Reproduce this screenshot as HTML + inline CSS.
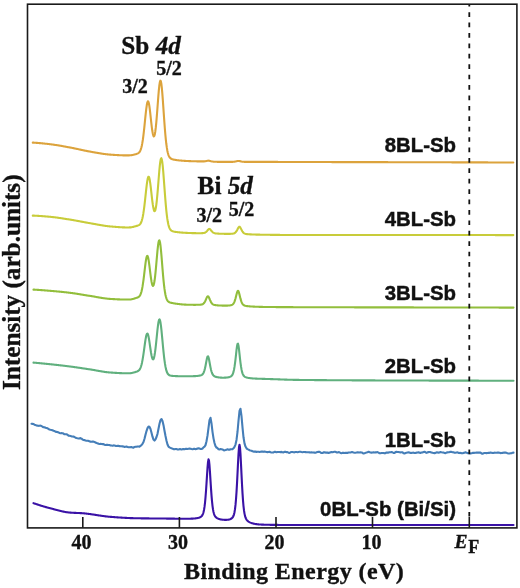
<!DOCTYPE html>
  <html><head><meta charset="utf-8"><style>
  html,body{margin:0;padding:0;background:#fff;}
  body{width:520px;height:588px;overflow:hidden;position:relative;}
  svg{position:absolute;left:0;top:0;filter:blur(0.4px);}
  .curves path{fill:none;stroke-width:2.1;stroke-linejoin:round;stroke-linecap:round;}
  .ser{font-family:"Liberation Serif",serif;font-weight:bold;fill:#111;stroke:#111;stroke-width:0.35;}
  .san{font-family:"Liberation Sans",sans-serif;font-weight:bold;fill:#111;stroke:#111;stroke-width:0.45;}
  </style></head><body>
  <svg width="520" height="588" viewBox="0 0 520 588">
  <g class="curves">
  <path d="M32.8 142.60L33.3 142.63L33.8 142.66L34.3 142.69L34.8 142.73L35.3 142.76L35.8 142.80L36.3 142.84L36.8 142.88L37.3 142.91L37.8 142.96L38.3 143.00L38.8 143.04L39.3 143.08L39.8 143.13L40.3 143.17L40.8 143.22L41.3 143.26L41.8 143.31L42.3 143.36L42.8 143.41L43.3 143.46L43.8 143.51L44.3 143.56L44.8 143.62L45.3 143.67L45.8 143.72L46.3 143.78L46.8 143.83L47.3 143.89L47.8 143.95L48.3 144.00L48.8 144.06L49.3 144.12L49.8 144.18L50.3 144.24L50.8 144.30L51.3 144.36L51.8 144.42L52.3 144.49L52.8 144.56L53.3 144.63L53.8 144.70L54.3 144.77L54.8 144.85L55.3 144.92L55.8 145.00L56.3 145.08L56.8 145.16L57.3 145.24L57.8 145.32L58.3 145.40L58.8 145.48L59.3 145.57L59.8 145.65L60.3 145.74L60.8 145.83L61.3 145.91L61.8 146.00L62.3 146.09L62.8 146.18L63.3 146.27L63.8 146.36L64.3 146.45L64.8 146.54L65.3 146.64L65.8 146.73L66.3 146.82L66.8 146.91L67.3 147.00L67.8 147.10L68.3 147.19L68.8 147.28L69.3 147.37L69.8 147.46L70.3 147.56L70.8 147.65L71.3 147.74L71.8 147.84L72.3 147.94L72.8 148.04L73.3 148.14L73.8 148.24L74.3 148.35L74.8 148.45L75.3 148.55L75.8 148.66L76.3 148.77L76.8 148.88L77.3 148.98L77.8 149.09L78.3 149.20L78.8 149.31L79.3 149.42L79.8 149.53L80.3 149.64L80.8 149.75L81.3 149.85L81.8 149.96L82.3 150.07L82.8 150.18L83.3 150.28L83.8 150.39L84.3 150.50L84.8 150.60L85.3 150.70L85.8 150.80L86.3 150.90L86.8 151.00L87.3 151.10L87.8 151.20L88.3 151.29L88.8 151.39L89.3 151.48L89.8 151.57L90.3 151.65L90.8 151.74L91.3 151.83L91.8 151.92L92.3 152.01L92.8 152.10L93.3 152.19L93.8 152.28L94.3 152.36L94.8 152.45L95.3 152.54L95.8 152.63L96.3 152.72L96.8 152.81L97.3 152.90L97.8 152.98L98.3 153.07L98.8 153.15L99.3 153.24L99.8 153.32L100.3 153.40L100.8 153.48L101.3 153.56L101.8 153.64L102.3 153.71L102.8 153.79L103.3 153.86L103.8 153.93L104.3 154.00L104.8 154.06L105.3 154.13L105.8 154.19L106.3 154.25L106.8 154.31L107.3 154.36L107.8 154.41L108.3 154.46L108.8 154.50L109.3 154.55L109.8 154.59L110.3 154.62L110.8 154.66L111.3 154.69L111.8 154.73L112.3 154.77L112.8 154.80L113.3 154.83L113.8 154.87L114.3 154.90L114.8 154.94L115.3 154.97L115.8 155.00L116.3 155.03L116.8 155.06L117.3 155.09L117.8 155.12L118.3 155.15L118.8 155.17L119.3 155.20L119.8 155.22L120.3 155.24L120.8 155.27L121.3 155.29L121.8 155.30L122.3 155.32L122.8 155.33L123.3 155.35L123.8 155.36L124.3 155.37L124.8 155.38L125.3 155.38L125.8 155.38L126.3 155.38L126.8 155.38L127.3 155.38L127.8 155.37L128.3 155.36L128.8 155.35L129.3 155.33L129.8 155.31L130.3 155.28L130.8 155.24L131.3 155.18L131.8 155.10L132.3 155.01L132.8 154.91L133.3 154.80L133.8 154.68L134.3 154.56L134.8 154.43L135.3 154.29L135.8 154.15L136.3 154.00L136.8 153.83L137.3 153.64L137.8 153.42L138.3 153.13L138.8 152.77L139.3 152.26L139.8 151.58L140.3 150.65L140.8 149.40L141.3 147.78L141.8 145.71L142.3 143.13L142.8 140.00L143.3 136.33L143.8 132.14L144.3 127.54L144.8 122.67L145.3 117.72L145.8 112.94L146.3 108.62L146.8 105.07L147.3 102.55L147.8 101.31L148.3 101.46L148.8 102.97L149.3 105.69L149.8 109.36L150.3 113.67L150.8 118.27L151.3 122.85L151.8 127.11L152.3 130.80L152.8 133.68L153.3 135.58L153.8 136.38L154.3 135.98L154.8 134.35L155.3 131.48L155.8 127.45L156.3 122.37L156.8 116.46L157.3 109.97L157.8 103.24L158.3 96.67L158.8 90.69L159.3 85.77L159.8 82.32L160.3 80.69L160.8 81.07L161.3 83.43L161.8 87.57L162.3 93.13L162.8 99.70L163.3 106.84L163.8 114.15L164.3 121.28L164.8 127.96L165.3 134.00L165.8 139.28L166.3 143.76L166.8 147.45L167.3 150.41L167.8 152.73L168.3 154.51L168.8 155.85L169.3 156.84L169.8 157.57L170.3 158.11L170.8 158.50L171.3 158.80L171.8 159.02L172.3 159.21L172.8 159.36L173.3 159.49L173.8 159.60L174.3 159.70L174.8 159.80L175.3 159.89L175.8 159.97L176.3 160.04L176.8 160.12L177.3 160.18L177.8 160.25L178.3 160.31L178.8 160.37L179.3 160.42L179.8 160.48L180.3 160.53L180.8 160.57L181.3 160.62L181.8 160.66L182.3 160.70L182.8 160.74L183.3 160.78L183.8 160.82L184.3 160.85L184.8 160.88L185.3 160.91L185.8 160.94L186.3 160.97L186.8 160.99L187.3 161.02L187.8 161.04L188.3 161.07L188.8 161.09L189.3 161.11L189.8 161.13L190.3 161.15L190.8 161.16L191.3 161.18L191.8 161.20L192.3 161.21L192.8 161.23L193.3 161.24L193.8 161.26L194.3 161.27L194.8 161.28L195.3 161.30L195.8 161.31L196.3 161.32L196.8 161.33L197.3 161.34L197.8 161.35L198.3 161.36L198.8 161.37L199.3 161.38L199.8 161.39L200.3 161.40L200.8 161.41L201.3 161.41L201.8 161.42L202.3 161.42L202.8 161.41L203.3 161.40L203.8 161.38L204.3 161.35L204.8 161.30L205.3 161.23L205.8 161.14L206.3 161.03L206.8 160.91L207.3 160.80L207.8 160.71L208.3 160.67L208.8 160.69L209.3 160.77L209.8 160.89L210.3 161.03L210.8 161.18L211.3 161.31L211.8 161.42L212.3 161.51L212.8 161.58L213.3 161.64L213.8 161.68L214.3 161.72L214.8 161.75L215.3 161.77L215.8 161.79L216.3 161.80L216.8 161.82L217.3 161.83L217.8 161.84L218.3 161.85L218.8 161.86L219.3 161.87L219.8 161.87L220.3 161.88L220.8 161.89L221.3 161.89L221.8 161.89L222.3 161.90L222.8 161.90L223.3 161.90L223.8 161.90L224.3 161.90L224.8 161.90L225.3 161.90L225.8 161.90L226.3 161.90L226.8 161.90L227.3 161.90L227.8 161.90L228.3 161.90L228.8 161.90L229.3 161.89L229.8 161.89L230.3 161.88L230.8 161.88L231.3 161.87L231.8 161.86L232.3 161.85L232.8 161.83L233.3 161.81L233.8 161.78L234.3 161.73L234.8 161.66L235.3 161.58L235.8 161.48L236.3 161.35L236.8 161.22L237.3 161.10L237.8 160.99L238.3 160.93L238.8 160.94L239.3 161.01L239.8 161.12L240.3 161.25L240.8 161.38L241.3 161.49L241.8 161.59L242.3 161.67L242.8 161.73L243.3 161.78L243.8 161.81L244.3 161.83L244.8 161.85L245.3 161.86L245.8 161.87L246.3 161.87L246.8 161.88L247.3 161.88L247.8 161.88L248.3 161.89L248.8 161.89L249.3 161.89L249.8 161.89L250.3 161.89L250.8 161.89L251.3 161.90L251.8 161.90L252.3 161.90L252.8 161.90L253.3 161.90L253.8 161.90L254.3 161.90L254.8 161.90L255.3 161.90L255.8 161.90L256.3 161.90L256.8 161.90L257.3 161.90L257.8 161.90L258.3 161.90L258.8 161.90L259.3 161.90L259.8 161.90L260.3 161.90L260.8 161.90L261.3 161.90L261.8 161.90L262.3 161.90L262.8 161.90L263.3 161.90L263.8 161.90L264.3 161.90L264.8 161.90L265.3 161.90L265.8 161.90L266.3 161.90L266.8 161.90L267.3 161.90L267.8 161.90L268.3 161.90L268.8 161.90L269.3 161.90L269.8 161.90L270.3 161.90L270.8 161.90L271.3 161.90L271.8 161.91L272.3 161.91L272.8 161.91L273.3 161.91L273.8 161.91L274.3 161.91L274.8 161.91L275.3 161.92L275.8 161.92L276.3 161.92L276.8 161.92L277.3 161.92L277.8 161.92L278.3 161.93L278.8 161.93L279.3 161.93L279.8 161.93L280.3 161.93L280.8 161.94L281.3 161.94L281.8 161.94L282.3 161.94L282.8 161.94L283.3 161.95L283.8 161.95L284.3 161.95L284.8 161.95L285.3 161.95L285.8 161.96L286.3 161.96L286.8 161.96L287.3 161.96L287.8 161.97L288.3 161.97L288.8 161.97L289.3 161.97L289.8 161.97L290.3 161.98L290.8 161.98L291.3 161.98L291.8 161.98L292.3 161.98L292.8 161.99L293.3 161.99L293.8 161.99L294.3 161.99L294.8 161.99L295.3 161.99L295.8 162.00L296.3 162.00L296.8 162.00L297.3 162.00L297.8 162.00L298.3 162.00L298.8 162.00L299.3 162.01L299.8 162.01L300.3 162.01L300.8 162.01L301.3 162.01L301.8 162.01L302.3 162.01L302.8 162.01L303.3 162.02L303.8 162.02L304.3 162.02L304.8 162.02L305.3 162.02L305.8 162.02L306.3 162.02L306.8 162.02L307.3 162.02L307.8 162.03L308.3 162.03L308.8 162.03L309.3 162.03L309.8 162.03L310.3 162.03L310.8 162.03L311.3 162.03L311.8 162.03L312.3 162.04L312.8 162.04L313.3 162.04L313.8 162.04L314.3 162.04L314.8 162.04L315.3 162.04L315.8 162.04L316.3 162.04L316.8 162.05L317.3 162.05L317.8 162.05L318.3 162.05L318.8 162.05L319.3 162.05L319.8 162.05L320.3 162.05L320.8 162.05L321.3 162.05L321.8 162.06L322.3 162.06L322.8 162.06L323.3 162.06L323.8 162.06L324.3 162.06L324.8 162.06L325.3 162.06L325.8 162.06L326.3 162.06L326.8 162.07L327.3 162.07L327.8 162.07L328.3 162.07L328.8 162.07L329.3 162.07L329.8 162.07L330.3 162.07L330.8 162.07L331.3 162.07L331.8 162.08L332.3 162.08L332.8 162.08L333.3 162.08L333.8 162.08L334.3 162.08L334.8 162.08L335.3 162.08L335.8 162.08L336.3 162.08L336.8 162.08L337.3 162.09L337.8 162.09L338.3 162.09L338.8 162.09L339.3 162.09L339.8 162.09L340.3 162.09L340.8 162.09L341.3 162.09L341.8 162.09L342.3 162.09L342.8 162.09L343.3 162.10L343.8 162.10L344.3 162.10L344.8 162.10L345.3 162.10L345.8 162.10L346.3 162.10L346.8 162.10L347.3 162.10L347.8 162.10L348.3 162.10L348.8 162.11L349.3 162.11L349.8 162.11L350.3 162.11L350.8 162.11L351.3 162.11L351.8 162.11L352.3 162.11L352.8 162.11L353.3 162.11L353.8 162.11L354.3 162.11L354.8 162.12L355.3 162.12L355.8 162.12L356.3 162.12L356.8 162.12L357.3 162.12L357.8 162.12L358.3 162.12L358.8 162.12L359.3 162.12L359.8 162.12L360.3 162.12L360.8 162.13L361.3 162.13L361.8 162.13L362.3 162.13L362.8 162.13L363.3 162.13L363.8 162.13L364.3 162.13L364.8 162.13L365.3 162.13L365.8 162.13L366.3 162.14L366.8 162.14L367.3 162.14L367.8 162.14L368.3 162.14L368.8 162.14L369.3 162.14L369.8 162.14L370.3 162.14L370.8 162.14L371.3 162.14L371.8 162.14L372.3 162.15L372.8 162.15L373.3 162.15L373.8 162.15L374.3 162.15L374.8 162.15L375.3 162.15L375.8 162.15L376.3 162.15L376.8 162.15L377.3 162.15L377.8 162.16L378.3 162.16L378.8 162.16L379.3 162.16L379.8 162.16L380.3 162.16L380.8 162.16L381.3 162.16L381.8 162.16L382.3 162.16L382.8 162.17L383.3 162.17L383.8 162.17L384.3 162.17L384.8 162.17L385.3 162.17L385.8 162.17L386.3 162.17L386.8 162.17L387.3 162.17L387.8 162.17L388.3 162.18L388.8 162.18L389.3 162.18L389.8 162.18L390.3 162.18L390.8 162.18L391.3 162.18L391.8 162.18L392.3 162.18L392.8 162.18L393.3 162.19L393.8 162.19L394.3 162.19L394.8 162.19L395.3 162.19L395.8 162.19L396.3 162.19L396.8 162.19L397.3 162.19L397.8 162.20L398.3 162.20L398.8 162.20L399.3 162.20L399.8 162.20L400.3 162.20L400.8 162.20L401.3 162.20L401.8 162.20L402.3 162.21L402.8 162.21L403.3 162.21L403.8 162.21L404.3 162.21L404.8 162.21L405.3 162.21L405.8 162.21L406.3 162.21L406.8 162.22L407.3 162.22L407.8 162.22L408.3 162.22L408.8 162.22L409.3 162.22L409.8 162.22L410.3 162.22L410.8 162.22L411.3 162.23L411.8 162.23L412.3 162.23L412.8 162.23L413.3 162.23L413.8 162.23L414.3 162.23L414.8 162.23L415.3 162.23L415.8 162.24L416.3 162.24L416.8 162.24L417.3 162.24L417.8 162.24L418.3 162.24L418.8 162.24L419.3 162.24L419.8 162.25L420.3 162.25L420.8 162.25L421.3 162.25L421.8 162.25L422.3 162.25L422.8 162.25L423.3 162.25L423.8 162.25L424.3 162.26L424.8 162.26L425.3 162.26L425.8 162.26L426.3 162.26L426.8 162.26L427.3 162.26L427.8 162.26L428.3 162.27L428.8 162.27L429.3 162.27L429.8 162.27L430.3 162.27L430.8 162.27L431.3 162.27L431.8 162.27L432.3 162.28L432.8 162.28L433.3 162.28L433.8 162.28L434.3 162.28L434.8 162.28L435.3 162.28L435.8 162.28L436.3 162.29L436.8 162.29L437.3 162.29L437.8 162.29L438.3 162.29L438.8 162.29L439.3 162.29L439.8 162.29L440.3 162.30L440.8 162.30L441.3 162.30L441.8 162.30L442.3 162.30L442.8 162.30L443.3 162.30L443.8 162.30L444.3 162.31L444.8 162.31L445.3 162.31L445.8 162.31L446.3 162.31L446.8 162.31L447.3 162.31L447.8 162.31L448.3 162.32L448.8 162.32L449.3 162.32L449.8 162.32L450.3 162.32L450.8 162.32L451.3 162.32L451.8 162.33L452.3 162.33L452.8 162.33L453.3 162.33L453.8 162.33L454.3 162.33L454.8 162.33L455.3 162.33L455.8 162.34L456.3 162.34L456.8 162.34L457.3 162.34L457.8 162.34L458.3 162.34L458.8 162.34L459.3 162.34L459.8 162.35L460.3 162.35L460.8 162.35L461.3 162.35L461.8 162.35L462.3 162.35L462.8 162.35L463.3 162.36L463.8 162.36L464.3 162.36L464.8 162.36L465.3 162.36L465.8 162.36L466.3 162.36L466.8 162.37L467.3 162.37L467.8 162.37L468.3 162.37L468.8 162.37L469.3 162.37L469.8 162.37L470.3 162.37L470.8 162.38L471.3 162.38L471.8 162.38L472.3 162.38L472.8 162.38L473.3 162.38L473.8 162.38L474.3 162.39L474.8 162.39L475.3 162.39L475.8 162.39L476.3 162.39L476.8 162.39L477.3 162.39L477.8 162.40L478.3 162.40L478.8 162.40L479.3 162.40L479.8 162.40L480.3 162.40L480.8 162.40L481.3 162.41L481.8 162.41L482.3 162.41L482.8 162.41L483.3 162.41L483.8 162.41L484.3 162.41L484.8 162.42L485.3 162.42L485.8 162.42L486.3 162.42L486.8 162.42L487.3 162.42L487.8 162.42L488.3 162.43L488.8 162.43L489.3 162.43L489.8 162.43L490.3 162.43L490.8 162.43L491.3 162.43L491.8 162.44L492.3 162.44L492.8 162.44L493.3 162.44L493.8 162.44L494.3 162.44L494.8 162.44L495.3 162.45L495.8 162.45L496.3 162.45L496.8 162.45L497.3 162.45L497.8 162.45L498.3 162.45L498.8 162.46L499.3 162.46L499.8 162.46L500.3 162.46L500.8 162.46L501.3 162.46L501.8 162.46L502.3 162.47L502.8 162.47L503.3 162.47L503.8 162.47L504.3 162.47L504.8 162.47L505.3 162.48L505.8 162.48L506.3 162.48L506.8 162.48L507.3 162.48L507.8 162.48L508.3 162.48L508.8 162.49L509.3 162.49L509.8 162.49L510.3 162.49L510.8 162.49L511.3 162.49L511.8 162.49L512.3 162.50L512.8 162.50L513.3 162.50" stroke="#DCA33C"/>
<path d="M32.8 215.60L33.3 215.62L33.8 215.64L34.3 215.66L34.8 215.68L35.3 215.71L35.8 215.73L36.3 215.76L36.8 215.79L37.3 215.81L37.8 215.84L38.3 215.87L38.8 215.91L39.3 215.94L39.8 215.97L40.3 216.00L40.8 216.04L41.3 216.07L41.8 216.11L42.3 216.15L42.8 216.19L43.3 216.22L43.8 216.26L44.3 216.30L44.8 216.34L45.3 216.39L45.8 216.43L46.3 216.47L46.8 216.51L47.3 216.56L47.8 216.60L48.3 216.65L48.8 216.69L49.3 216.74L49.8 216.78L50.3 216.83L50.8 216.88L51.3 216.93L51.8 216.98L52.3 217.03L52.8 217.09L53.3 217.14L53.8 217.20L54.3 217.26L54.8 217.32L55.3 217.39L55.8 217.45L56.3 217.52L56.8 217.58L57.3 217.65L57.8 217.72L58.3 217.79L58.8 217.86L59.3 217.93L59.8 218.01L60.3 218.08L60.8 218.16L61.3 218.23L61.8 218.31L62.3 218.38L62.8 218.46L63.3 218.54L63.8 218.62L64.3 218.70L64.8 218.77L65.3 218.85L65.8 218.93L66.3 219.01L66.8 219.09L67.3 219.17L67.8 219.25L68.3 219.33L68.8 219.41L69.3 219.49L69.8 219.57L70.3 219.65L70.8 219.73L71.3 219.81L71.8 219.89L72.3 219.98L72.8 220.06L73.3 220.15L73.8 220.23L74.3 220.32L74.8 220.41L75.3 220.50L75.8 220.59L76.3 220.68L76.8 220.77L77.3 220.86L77.8 220.96L78.3 221.05L78.8 221.14L79.3 221.24L79.8 221.33L80.3 221.43L80.8 221.52L81.3 221.61L81.8 221.71L82.3 221.80L82.8 221.90L83.3 221.99L83.8 222.08L84.3 222.18L84.8 222.27L85.3 222.36L85.8 222.45L86.3 222.55L86.8 222.64L87.3 222.73L87.8 222.82L88.3 222.91L88.8 222.99L89.3 223.08L89.8 223.17L90.3 223.25L90.8 223.34L91.3 223.42L91.8 223.51L92.3 223.60L92.8 223.69L93.3 223.78L93.8 223.87L94.3 223.97L94.8 224.06L95.3 224.15L95.8 224.24L96.3 224.33L96.8 224.43L97.3 224.52L97.8 224.61L98.3 224.70L98.8 224.79L99.3 224.88L99.8 224.97L100.3 225.06L100.8 225.14L101.3 225.23L101.8 225.31L102.3 225.40L102.8 225.48L103.3 225.56L103.8 225.63L104.3 225.71L104.8 225.78L105.3 225.85L105.8 225.92L106.3 225.99L106.8 226.05L107.3 226.12L107.8 226.18L108.3 226.23L108.8 226.29L109.3 226.34L109.8 226.38L110.3 226.43L110.8 226.47L111.3 226.51L111.8 226.56L112.3 226.60L112.8 226.65L113.3 226.69L113.8 226.73L114.3 226.78L114.8 226.82L115.3 226.86L115.8 226.90L116.3 226.94L116.8 226.98L117.3 227.02L117.8 227.05L118.3 227.09L118.8 227.13L119.3 227.16L119.8 227.19L120.3 227.22L120.8 227.25L121.3 227.28L121.8 227.31L122.3 227.33L122.8 227.35L123.3 227.37L123.8 227.39L124.3 227.41L124.8 227.42L125.3 227.43L125.8 227.44L126.3 227.45L126.8 227.45L127.3 227.45L127.8 227.45L128.3 227.45L128.8 227.44L129.3 227.42L129.8 227.41L130.3 227.38L130.8 227.34L131.3 227.27L131.8 227.19L132.3 227.09L132.8 226.98L133.3 226.86L133.8 226.73L134.3 226.59L134.8 226.46L135.3 226.31L135.8 226.17L136.3 226.03L136.8 225.88L137.3 225.73L137.8 225.57L138.3 225.38L138.8 225.16L139.3 224.85L139.8 224.43L140.3 223.86L140.8 223.07L141.3 222.00L141.8 220.59L142.3 218.78L142.8 216.49L143.3 213.70L143.8 210.38L144.3 206.56L144.8 202.32L145.3 197.78L145.8 193.11L146.3 188.55L146.8 184.37L147.3 180.84L147.8 178.25L148.3 176.83L148.8 176.72L149.3 177.92L149.8 180.33L150.3 183.69L150.8 187.72L151.3 192.11L151.8 196.55L152.3 200.76L152.8 204.50L153.3 207.55L153.8 209.76L154.3 210.98L154.8 211.13L155.3 210.15L155.8 208.04L156.3 204.82L156.8 200.56L157.3 195.42L157.8 189.59L158.3 183.34L158.8 177.01L159.3 171.00L159.8 165.71L160.3 161.58L160.8 158.99L161.3 158.20L161.8 159.32L162.3 162.25L162.8 166.73L163.3 172.39L163.8 178.82L164.3 185.62L164.8 192.43L165.3 198.94L165.8 204.94L166.3 210.28L166.8 214.87L167.3 218.70L167.8 221.82L168.3 224.29L168.8 226.20L169.3 227.64L169.8 228.72L170.3 229.52L170.8 230.11L171.3 230.53L171.8 230.85L172.3 231.09L172.8 231.27L173.3 231.42L173.8 231.55L174.3 231.66L174.8 231.76L175.3 231.85L175.8 231.93L176.3 232.00L176.8 232.07L177.3 232.14L177.8 232.20L178.3 232.26L178.8 232.31L179.3 232.36L179.8 232.41L180.3 232.46L180.8 232.50L181.3 232.55L181.8 232.59L182.3 232.62L182.8 232.66L183.3 232.70L183.8 232.73L184.3 232.76L184.8 232.79L185.3 232.82L185.8 232.84L186.3 232.87L186.8 232.90L187.3 232.92L187.8 232.94L188.3 232.96L188.8 232.98L189.3 233.00L189.8 233.02L190.3 233.04L190.8 233.05L191.3 233.07L191.8 233.08L192.3 233.10L192.8 233.11L193.3 233.12L193.8 233.13L194.3 233.14L194.8 233.15L195.3 233.16L195.8 233.17L196.3 233.18L196.8 233.19L197.3 233.19L197.8 233.20L198.3 233.20L198.8 233.20L199.3 233.20L199.8 233.20L200.3 233.20L200.8 233.20L201.3 233.19L201.8 233.17L202.3 233.15L202.8 233.11L203.3 233.06L203.8 232.98L204.3 232.86L204.8 232.69L205.3 232.44L205.8 232.12L206.3 231.70L206.8 231.19L207.3 230.61L207.8 230.00L208.3 229.45L208.8 229.04L209.3 228.90L209.8 229.07L210.3 229.50L210.8 230.08L211.3 230.71L211.8 231.31L212.3 231.84L212.8 232.29L213.3 232.64L213.8 232.90L214.3 233.10L214.8 233.25L215.3 233.35L215.8 233.43L216.3 233.49L216.8 233.53L217.3 233.57L217.8 233.60L218.3 233.63L218.8 233.66L219.3 233.68L219.8 233.70L220.3 233.72L220.8 233.74L221.3 233.75L221.8 233.77L222.3 233.78L222.8 233.80L223.3 233.81L223.8 233.82L224.3 233.83L224.8 233.83L225.3 233.84L225.8 233.85L226.3 233.85L226.8 233.86L227.3 233.86L227.8 233.86L228.3 233.86L228.8 233.85L229.3 233.85L229.8 233.84L230.3 233.83L230.8 233.81L231.3 233.79L231.8 233.76L232.3 233.71L232.8 233.65L233.3 233.56L233.8 233.43L234.3 233.25L234.8 232.98L235.3 232.60L235.8 232.09L236.3 231.43L236.8 230.63L237.3 229.70L237.8 228.71L238.3 227.77L238.8 227.04L239.3 226.71L239.8 226.87L240.3 227.49L240.8 228.39L241.3 229.40L241.8 230.38L242.3 231.26L242.8 232.01L243.3 232.60L243.8 233.05L244.3 233.38L244.8 233.62L245.3 233.80L245.8 233.92L246.3 234.02L246.8 234.09L247.3 234.15L247.8 234.20L248.3 234.24L248.8 234.28L249.3 234.31L249.8 234.34L250.3 234.37L250.8 234.40L251.3 234.42L251.8 234.44L252.3 234.46L252.8 234.48L253.3 234.50L253.8 234.52L254.3 234.53L254.8 234.55L255.3 234.56L255.8 234.58L256.3 234.59L256.8 234.61L257.3 234.62L257.8 234.63L258.3 234.64L258.8 234.65L259.3 234.66L259.8 234.67L260.3 234.68L260.8 234.69L261.3 234.70L261.8 234.71L262.3 234.72L262.8 234.73L263.3 234.74L263.8 234.75L264.3 234.75L264.8 234.76L265.3 234.77L265.8 234.78L266.3 234.78L266.8 234.79L267.3 234.80L267.8 234.80L268.3 234.81L268.8 234.81L269.3 234.82L269.8 234.82L270.3 234.83L270.8 234.84L271.3 234.84L271.8 234.85L272.3 234.85L272.8 234.86L273.3 234.86L273.8 234.87L274.3 234.87L274.8 234.88L275.3 234.88L275.8 234.89L276.3 234.89L276.8 234.90L277.3 234.90L277.8 234.91L278.3 234.91L278.8 234.92L279.3 234.92L279.8 234.92L280.3 234.93L280.8 234.93L281.3 234.94L281.8 234.94L282.3 234.95L282.8 234.95L283.3 234.95L283.8 234.96L284.3 234.96L284.8 234.96L285.3 234.97L285.8 234.97L286.3 234.97L286.8 234.98L287.3 234.98L287.8 234.98L288.3 234.98L288.8 234.99L289.3 234.99L289.8 234.99L290.3 234.99L290.8 234.99L291.3 234.99L291.8 235.00L292.3 235.00L292.8 235.00L293.3 235.00L293.8 235.00L294.3 235.00L294.8 235.00L295.3 235.00L295.8 235.00L296.3 235.00L296.8 235.00L297.3 235.00L297.8 235.00L298.3 235.00L298.8 235.00L299.3 235.00L299.8 235.00L300.3 235.00L300.8 235.00L301.3 235.00L301.8 235.00L302.3 235.00L302.8 235.00L303.3 235.00L303.8 235.00L304.3 235.00L304.8 235.00L305.3 235.00L305.8 235.00L306.3 235.00L306.8 235.00L307.3 235.00L307.8 235.00L308.3 235.00L308.8 235.00L309.3 235.00L309.8 235.01L310.3 235.01L310.8 235.01L311.3 235.01L311.8 235.01L312.3 235.01L312.8 235.01L313.3 235.01L313.8 235.01L314.3 235.01L314.8 235.01L315.3 235.01L315.8 235.01L316.3 235.01L316.8 235.01L317.3 235.01L317.8 235.01L318.3 235.01L318.8 235.01L319.3 235.01L319.8 235.01L320.3 235.01L320.8 235.01L321.3 235.01L321.8 235.01L322.3 235.01L322.8 235.01L323.3 235.01L323.8 235.01L324.3 235.01L324.8 235.01L325.3 235.01L325.8 235.01L326.3 235.01L326.8 235.01L327.3 235.01L327.8 235.01L328.3 235.01L328.8 235.01L329.3 235.01L329.8 235.01L330.3 235.01L330.8 235.01L331.3 235.01L331.8 235.01L332.3 235.01L332.8 235.01L333.3 235.01L333.8 235.01L334.3 235.01L334.8 235.01L335.3 235.01L335.8 235.01L336.3 235.01L336.8 235.01L337.3 235.01L337.8 235.01L338.3 235.01L338.8 235.01L339.3 235.01L339.8 235.01L340.3 235.01L340.8 235.01L341.3 235.01L341.8 235.01L342.3 235.01L342.8 235.01L343.3 235.01L343.8 235.00L344.3 235.00L344.8 235.00L345.3 235.00L345.8 235.00L346.3 235.00L346.8 235.00L347.3 235.00L347.8 235.00L348.3 235.00L348.8 235.00L349.3 235.00L349.8 235.00L350.3 235.00L350.8 235.00L351.3 235.00L351.8 235.00L352.3 235.00L352.8 235.00L353.3 235.00L353.8 235.00L354.3 235.00L354.8 235.00L355.3 235.00L355.8 235.00L356.3 235.00L356.8 235.00L357.3 235.00L357.8 235.00L358.3 235.00L358.8 235.00L359.3 235.00L359.8 235.00L360.3 235.00L360.8 235.00L361.3 235.00L361.8 235.00L362.3 235.00L362.8 235.00L363.3 235.00L363.8 235.00L364.3 235.00L364.8 235.00L365.3 235.00L365.8 235.00L366.3 235.00L366.8 235.00L367.3 235.00L367.8 235.00L368.3 235.00L368.8 235.00L369.3 235.00L369.8 235.00L370.3 235.00L370.8 235.00L371.3 235.00L371.8 235.00L372.3 235.00L372.8 235.00L373.3 235.00L373.8 235.00L374.3 235.00L374.8 235.00L375.3 235.00L375.8 235.00L376.3 235.00L376.8 235.00L377.3 235.00L377.8 235.00L378.3 235.00L378.8 235.00L379.3 235.00L379.8 235.00L380.3 235.00L380.8 235.00L381.3 235.00L381.8 235.00L382.3 235.00L382.8 235.00L383.3 235.00L383.8 235.00L384.3 235.00L384.8 235.00L385.3 235.00L385.8 235.00L386.3 235.00L386.8 235.00L387.3 235.00L387.8 235.00L388.3 235.00L388.8 235.00L389.3 235.00L389.8 235.00L390.3 235.00L390.8 235.00L391.3 235.00L391.8 235.00L392.3 235.00L392.8 235.00L393.3 235.00L393.8 235.00L394.3 235.00L394.8 235.00L395.3 235.00L395.8 235.00L396.3 235.00L396.8 235.00L397.3 235.00L397.8 235.00L398.3 235.00L398.8 235.00L399.3 235.00L399.8 235.00L400.3 235.00L400.8 235.00L401.3 235.00L401.8 235.00L402.3 235.00L402.8 235.00L403.3 235.00L403.8 235.00L404.3 235.00L404.8 235.00L405.3 235.00L405.8 235.00L406.3 235.00L406.8 235.00L407.3 235.00L407.8 235.00L408.3 235.00L408.8 235.00L409.3 235.00L409.8 235.00L410.3 235.00L410.8 235.00L411.3 235.00L411.8 235.00L412.3 235.00L412.8 235.00L413.3 235.00L413.8 235.00L414.3 235.00L414.8 235.00L415.3 235.00L415.8 235.00L416.3 235.00L416.8 235.00L417.3 235.00L417.8 235.00L418.3 235.00L418.8 235.00L419.3 235.00L419.8 235.00L420.3 235.00L420.8 235.01L421.3 235.01L421.8 235.01L422.3 235.01L422.8 235.01L423.3 235.01L423.8 235.01L424.3 235.01L424.8 235.01L425.3 235.01L425.8 235.01L426.3 235.01L426.8 235.01L427.3 235.01L427.8 235.01L428.3 235.01L428.8 235.01L429.3 235.01L429.8 235.01L430.3 235.01L430.8 235.01L431.3 235.01L431.8 235.01L432.3 235.01L432.8 235.01L433.3 235.01L433.8 235.01L434.3 235.01L434.8 235.01L435.3 235.01L435.8 235.01L436.3 235.01L436.8 235.01L437.3 235.01L437.8 235.01L438.3 235.02L438.8 235.02L439.3 235.02L439.8 235.02L440.3 235.02L440.8 235.02L441.3 235.02L441.8 235.02L442.3 235.02L442.8 235.02L443.3 235.02L443.8 235.02L444.3 235.02L444.8 235.02L445.3 235.02L445.8 235.02L446.3 235.02L446.8 235.02L447.3 235.02L447.8 235.02L448.3 235.02L448.8 235.02L449.3 235.02L449.8 235.02L450.3 235.02L450.8 235.03L451.3 235.03L451.8 235.03L452.3 235.03L452.8 235.03L453.3 235.03L453.8 235.03L454.3 235.03L454.8 235.03L455.3 235.03L455.8 235.03L456.3 235.03L456.8 235.03L457.3 235.03L457.8 235.03L458.3 235.03L458.8 235.03L459.3 235.03L459.8 235.03L460.3 235.03L460.8 235.03L461.3 235.04L461.8 235.04L462.3 235.04L462.8 235.04L463.3 235.04L463.8 235.04L464.3 235.04L464.8 235.04L465.3 235.04L465.8 235.04L466.3 235.04L466.8 235.04L467.3 235.04L467.8 235.04L468.3 235.04L468.8 235.04L469.3 235.04L469.8 235.04L470.3 235.04L470.8 235.05L471.3 235.05L471.8 235.05L472.3 235.05L472.8 235.05L473.3 235.05L473.8 235.05L474.3 235.05L474.8 235.05L475.3 235.05L475.8 235.05L476.3 235.05L476.8 235.05L477.3 235.05L477.8 235.05L478.3 235.05L478.8 235.05L479.3 235.06L479.8 235.06L480.3 235.06L480.8 235.06L481.3 235.06L481.8 235.06L482.3 235.06L482.8 235.06L483.3 235.06L483.8 235.06L484.3 235.06L484.8 235.06L485.3 235.06L485.8 235.06L486.3 235.06L486.8 235.06L487.3 235.07L487.8 235.07L488.3 235.07L488.8 235.07L489.3 235.07L489.8 235.07L490.3 235.07L490.8 235.07L491.3 235.07L491.8 235.07L492.3 235.07L492.8 235.07L493.3 235.07L493.8 235.07L494.3 235.07L494.8 235.07L495.3 235.08L495.8 235.08L496.3 235.08L496.8 235.08L497.3 235.08L497.8 235.08L498.3 235.08L498.8 235.08L499.3 235.08L499.8 235.08L500.3 235.08L500.8 235.08L501.3 235.08L501.8 235.08L502.3 235.08L502.8 235.09L503.3 235.09L503.8 235.09L504.3 235.09L504.8 235.09L505.3 235.09L505.8 235.09L506.3 235.09L506.8 235.09L507.3 235.09L507.8 235.09L508.3 235.09L508.8 235.09L509.3 235.09L509.8 235.09L510.3 235.10L510.8 235.10L511.3 235.10L511.8 235.10L512.3 235.10L512.8 235.10L513.3 235.10" stroke="#C8CC3A"/>
<path d="M33.5 289.60L34.0 289.63L34.5 289.66L35.0 289.69L35.5 289.72L36.0 289.76L36.5 289.79L37.0 289.82L37.5 289.85L38.0 289.89L38.5 289.92L39.0 289.96L39.5 289.99L40.0 290.03L40.5 290.06L41.0 290.10L41.5 290.13L42.0 290.17L42.5 290.21L43.0 290.24L43.5 290.28L44.0 290.32L44.5 290.36L45.0 290.40L45.5 290.44L46.0 290.47L46.5 290.51L47.0 290.55L47.5 290.59L48.0 290.63L48.5 290.68L49.0 290.72L49.5 290.76L50.0 290.80L50.5 290.84L51.0 290.88L51.5 290.93L52.0 290.97L52.5 291.01L53.0 291.06L53.5 291.10L54.0 291.14L54.5 291.19L55.0 291.23L55.5 291.28L56.0 291.33L56.5 291.37L57.0 291.42L57.5 291.46L58.0 291.51L58.5 291.56L59.0 291.61L59.5 291.66L60.0 291.71L60.5 291.76L61.0 291.81L61.5 291.86L62.0 291.91L62.5 291.96L63.0 292.01L63.5 292.06L64.0 292.12L64.5 292.17L65.0 292.22L65.5 292.28L66.0 292.33L66.5 292.39L67.0 292.45L67.5 292.50L68.0 292.56L68.5 292.62L69.0 292.68L69.5 292.74L70.0 292.80L70.5 292.86L71.0 292.92L71.5 292.99L72.0 293.06L72.5 293.12L73.0 293.19L73.5 293.26L74.0 293.34L74.5 293.41L75.0 293.48L75.5 293.56L76.0 293.63L76.5 293.71L77.0 293.79L77.5 293.87L78.0 293.95L78.5 294.03L79.0 294.11L79.5 294.19L80.0 294.27L80.5 294.35L81.0 294.44L81.5 294.52L82.0 294.60L82.5 294.69L83.0 294.77L83.5 294.85L84.0 294.93L84.5 295.02L85.0 295.10L85.5 295.18L86.0 295.26L86.5 295.35L87.0 295.43L87.5 295.51L88.0 295.59L88.5 295.67L89.0 295.75L89.5 295.82L90.0 295.90L90.5 295.98L91.0 296.06L91.5 296.14L92.0 296.22L92.5 296.30L93.0 296.39L93.5 296.48L94.0 296.56L94.5 296.65L95.0 296.74L95.5 296.83L96.0 296.92L96.5 297.01L97.0 297.10L97.5 297.19L98.0 297.27L98.5 297.36L99.0 297.45L99.5 297.54L100.0 297.62L100.5 297.71L101.0 297.79L101.5 297.87L102.0 297.96L102.5 298.03L103.0 298.11L103.5 298.19L104.0 298.26L104.5 298.33L105.0 298.40L105.5 298.46L106.0 298.52L106.5 298.58L107.0 298.64L107.5 298.69L108.0 298.74L108.5 298.79L109.0 298.83L109.5 298.87L110.0 298.90L110.5 298.93L111.0 298.96L111.5 298.99L112.0 299.02L112.5 299.05L113.0 299.08L113.5 299.11L114.0 299.14L114.5 299.17L115.0 299.20L115.5 299.23L116.0 299.25L116.5 299.28L117.0 299.30L117.5 299.33L118.0 299.35L118.5 299.37L119.0 299.39L119.5 299.41L120.0 299.43L120.5 299.45L121.0 299.47L121.5 299.49L122.0 299.50L122.5 299.51L123.0 299.52L123.5 299.54L124.0 299.54L124.5 299.55L125.0 299.56L125.5 299.56L126.0 299.56L126.5 299.56L127.0 299.56L127.5 299.56L128.0 299.55L128.5 299.54L129.0 299.53L129.5 299.52L130.0 299.50L130.5 299.47L131.0 299.41L131.5 299.33L132.0 299.22L132.5 299.10L133.0 298.97L133.5 298.82L134.0 298.67L134.5 298.51L135.0 298.35L135.5 298.18L136.0 298.02L136.5 297.85L137.0 297.67L137.5 297.48L138.0 297.27L138.5 297.00L139.0 296.64L139.5 296.14L140.0 295.45L140.5 294.48L141.0 293.19L141.5 291.49L142.0 289.32L142.5 286.64L143.0 283.46L143.5 279.80L144.0 275.78L144.5 271.54L145.0 267.31L145.5 263.34L146.0 259.95L146.5 257.43L147.0 256.03L147.5 255.91L148.0 257.09L148.5 259.42L149.0 262.65L149.5 266.47L150.0 270.55L150.5 274.59L151.0 278.30L151.5 281.45L152.0 283.86L152.5 285.38L153.0 285.90L153.5 285.36L154.0 283.74L154.5 281.03L155.0 277.31L155.5 272.70L156.0 267.41L156.5 261.69L157.0 255.90L157.5 250.45L158.0 245.77L158.5 242.31L159.0 240.45L159.5 240.41L160.0 242.22L160.5 245.70L161.0 250.50L161.5 256.19L162.0 262.35L162.5 268.58L163.0 274.55L163.5 280.03L164.0 284.86L164.5 288.95L165.0 292.31L165.5 294.98L166.0 297.05L166.5 298.61L167.0 299.76L167.5 300.61L168.0 301.22L168.5 301.67L169.0 302.00L169.5 302.26L170.0 302.45L170.5 302.62L171.0 302.75L171.5 302.87L172.0 302.98L172.5 303.08L173.0 303.18L173.5 303.27L174.0 303.36L174.5 303.44L175.0 303.53L175.5 303.60L176.0 303.68L176.5 303.75L177.0 303.82L177.5 303.89L178.0 303.95L178.5 304.01L179.0 304.07L179.5 304.13L180.0 304.19L180.5 304.24L181.0 304.29L181.5 304.34L182.0 304.38L182.5 304.43L183.0 304.47L183.5 304.51L184.0 304.54L184.5 304.58L185.0 304.61L185.5 304.64L186.0 304.66L186.5 304.68L187.0 304.70L187.5 304.72L188.0 304.74L188.5 304.75L189.0 304.76L189.5 304.78L190.0 304.79L190.5 304.79L191.0 304.80L191.5 304.81L192.0 304.82L192.5 304.82L193.0 304.82L193.5 304.83L194.0 304.83L194.5 304.83L195.0 304.83L195.5 304.83L196.0 304.82L196.5 304.82L197.0 304.81L197.5 304.80L198.0 304.79L198.5 304.78L199.0 304.76L199.5 304.74L200.0 304.70L200.5 304.66L201.0 304.60L201.5 304.51L202.0 304.39L202.5 304.21L203.0 303.95L203.5 303.58L204.0 303.06L204.5 302.38L205.0 301.52L205.5 300.49L206.0 299.33L206.5 298.15L207.0 297.09L207.5 296.38L208.0 296.22L208.5 296.65L209.0 297.55L209.5 298.72L210.0 299.94L210.5 301.08L211.0 302.08L211.5 302.90L212.0 303.54L212.5 304.03L213.0 304.38L213.5 304.64L214.0 304.82L214.5 304.96L215.0 305.06L215.5 305.14L216.0 305.21L216.5 305.26L217.0 305.31L217.5 305.35L218.0 305.39L218.5 305.43L219.0 305.46L219.5 305.48L220.0 305.51L220.5 305.53L221.0 305.55L221.5 305.56L222.0 305.58L222.5 305.59L223.0 305.60L223.5 305.61L224.0 305.61L224.5 305.62L225.0 305.62L225.5 305.62L226.0 305.61L226.5 305.60L227.0 305.59L227.5 305.58L228.0 305.55L228.5 305.53L229.0 305.49L229.5 305.45L230.0 305.39L230.5 305.31L231.0 305.21L231.5 305.07L232.0 304.86L232.5 304.57L233.0 304.15L233.5 303.55L234.0 302.72L234.5 301.62L235.0 300.20L235.5 298.50L236.0 296.56L236.5 294.53L237.0 292.66L237.5 291.30L238.0 290.80L238.5 291.33L239.0 292.72L239.5 294.63L240.0 296.69L240.5 298.66L241.0 300.40L241.5 301.85L242.0 302.99L242.5 303.85L243.0 304.48L243.5 304.94L244.0 305.26L244.5 305.50L245.0 305.67L245.5 305.81L246.0 305.92L246.5 306.01L247.0 306.09L247.5 306.15L248.0 306.21L248.5 306.27L249.0 306.32L249.5 306.36L250.0 306.40L250.5 306.44L251.0 306.48L251.5 306.51L252.0 306.54L252.5 306.57L253.0 306.59L253.5 306.62L254.0 306.64L254.5 306.67L255.0 306.69L255.5 306.71L256.0 306.73L256.5 306.75L257.0 306.76L257.5 306.78L258.0 306.80L258.5 306.81L259.0 306.83L259.5 306.84L260.0 306.85L260.5 306.87L261.0 306.88L261.5 306.89L262.0 306.90L262.5 306.91L263.0 306.93L263.5 306.94L264.0 306.94L264.5 306.95L265.0 306.96L265.5 306.97L266.0 306.98L266.5 306.98L267.0 306.99L267.5 307.00L268.0 307.00L268.5 307.01L269.0 307.01L269.5 307.02L270.0 307.03L270.5 307.03L271.0 307.04L271.5 307.04L272.0 307.04L272.5 307.05L273.0 307.05L273.5 307.06L274.0 307.06L274.5 307.07L275.0 307.07L275.5 307.07L276.0 307.08L276.5 307.08L277.0 307.09L277.5 307.09L278.0 307.09L278.5 307.10L279.0 307.10L279.5 307.10L280.0 307.11L280.5 307.11L281.0 307.11L281.5 307.12L282.0 307.12L282.5 307.12L283.0 307.13L283.5 307.13L284.0 307.13L284.5 307.13L285.0 307.14L285.5 307.14L286.0 307.14L286.5 307.14L287.0 307.15L287.5 307.15L288.0 307.15L288.5 307.15L289.0 307.16L289.5 307.16L290.0 307.16L290.5 307.16L291.0 307.17L291.5 307.17L292.0 307.17L292.5 307.17L293.0 307.17L293.5 307.18L294.0 307.18L294.5 307.18L295.0 307.18L295.5 307.18L296.0 307.19L296.5 307.19L297.0 307.19L297.5 307.19L298.0 307.19L298.5 307.19L299.0 307.20L299.5 307.20L300.0 307.20L300.5 307.20L301.0 307.20L301.5 307.21L302.0 307.21L302.5 307.21L303.0 307.21L303.5 307.21L304.0 307.21L304.5 307.21L305.0 307.22L305.5 307.22L306.0 307.22L306.5 307.22L307.0 307.22L307.5 307.22L308.0 307.23L308.5 307.23L309.0 307.23L309.5 307.23L310.0 307.23L310.5 307.23L311.0 307.23L311.5 307.24L312.0 307.24L312.5 307.24L313.0 307.24L313.5 307.24L314.0 307.24L314.5 307.24L315.0 307.24L315.5 307.25L316.0 307.25L316.5 307.25L317.0 307.25L317.5 307.25L318.0 307.25L318.5 307.25L319.0 307.26L319.5 307.26L320.0 307.26L320.5 307.26L321.0 307.26L321.5 307.26L322.0 307.26L322.5 307.26L323.0 307.26L323.5 307.27L324.0 307.27L324.5 307.27L325.0 307.27L325.5 307.27L326.0 307.27L326.5 307.27L327.0 307.27L327.5 307.27L328.0 307.28L328.5 307.28L329.0 307.28L329.5 307.28L330.0 307.28L330.5 307.28L331.0 307.28L331.5 307.28L332.0 307.28L332.5 307.29L333.0 307.29L333.5 307.29L334.0 307.29L334.5 307.29L335.0 307.29L335.5 307.29L336.0 307.29L336.5 307.29L337.0 307.29L337.5 307.30L338.0 307.30L338.5 307.30L339.0 307.30L339.5 307.30L340.0 307.30L340.5 307.30L341.0 307.30L341.5 307.30L342.0 307.30L342.5 307.30L343.0 307.31L343.5 307.31L344.0 307.31L344.5 307.31L345.0 307.31L345.5 307.31L346.0 307.31L346.5 307.31L347.0 307.31L347.5 307.31L348.0 307.31L348.5 307.32L349.0 307.32L349.5 307.32L350.0 307.32L350.5 307.32L351.0 307.32L351.5 307.32L352.0 307.32L352.5 307.32L353.0 307.32L353.5 307.32L354.0 307.32L354.5 307.33L355.0 307.33L355.5 307.33L356.0 307.33L356.5 307.33L357.0 307.33L357.5 307.33L358.0 307.33L358.5 307.33L359.0 307.33L359.5 307.33L360.0 307.33L360.5 307.34L361.0 307.34L361.5 307.34L362.0 307.34L362.5 307.34L363.0 307.34L363.5 307.34L364.0 307.34L364.5 307.34L365.0 307.34L365.5 307.34L366.0 307.34L366.5 307.34L367.0 307.35L367.5 307.35L368.0 307.35L368.5 307.35L369.0 307.35L369.5 307.35L370.0 307.35L370.5 307.35L371.0 307.35L371.5 307.35L372.0 307.35L372.5 307.35L373.0 307.36L373.5 307.36L374.0 307.36L374.5 307.36L375.0 307.36L375.5 307.36L376.0 307.36L376.5 307.36L377.0 307.36L377.5 307.36L378.0 307.36L378.5 307.36L379.0 307.36L379.5 307.37L380.0 307.37L380.5 307.37L381.0 307.37L381.5 307.37L382.0 307.37L382.5 307.37L383.0 307.37L383.5 307.37L384.0 307.37L384.5 307.37L385.0 307.37L385.5 307.38L386.0 307.38L386.5 307.38L387.0 307.38L387.5 307.38L388.0 307.38L388.5 307.38L389.0 307.38L389.5 307.38L390.0 307.38L390.5 307.38L391.0 307.38L391.5 307.39L392.0 307.39L392.5 307.39L393.0 307.39L393.5 307.39L394.0 307.39L394.5 307.39L395.0 307.39L395.5 307.39L396.0 307.39L396.5 307.39L397.0 307.39L397.5 307.40L398.0 307.40L398.5 307.40L399.0 307.40L399.5 307.40L400.0 307.40L400.5 307.40L401.0 307.40L401.5 307.40L402.0 307.40L402.5 307.40L403.0 307.41L403.5 307.41L404.0 307.41L404.5 307.41L405.0 307.41L405.5 307.41L406.0 307.41L406.5 307.41L407.0 307.41L407.5 307.41L408.0 307.41L408.5 307.42L409.0 307.42L409.5 307.42L410.0 307.42L410.5 307.42L411.0 307.42L411.5 307.42L412.0 307.42L412.5 307.42L413.0 307.42L413.5 307.42L414.0 307.43L414.5 307.43L415.0 307.43L415.5 307.43L416.0 307.43L416.5 307.43L417.0 307.43L417.5 307.43L418.0 307.43L418.5 307.43L419.0 307.43L419.5 307.44L420.0 307.44L420.5 307.44L421.0 307.44L421.5 307.44L422.0 307.44L422.5 307.44L423.0 307.44L423.5 307.44L424.0 307.44L424.5 307.44L425.0 307.45L425.5 307.45L426.0 307.45L426.5 307.45L427.0 307.45L427.5 307.45L428.0 307.45L428.5 307.45L429.0 307.45L429.5 307.45L430.0 307.45L430.5 307.46L431.0 307.46L431.5 307.46L432.0 307.46L432.5 307.46L433.0 307.46L433.5 307.46L434.0 307.46L434.5 307.46L435.0 307.46L435.5 307.46L436.0 307.46L436.5 307.47L437.0 307.47L437.5 307.47L438.0 307.47L438.5 307.47L439.0 307.47L439.5 307.47L440.0 307.47L440.5 307.47L441.0 307.47L441.5 307.47L442.0 307.48L442.5 307.48L443.0 307.48L443.5 307.48L444.0 307.48L444.5 307.48L445.0 307.48L445.5 307.48L446.0 307.48L446.5 307.48L447.0 307.48L447.5 307.49L448.0 307.49L448.5 307.49L449.0 307.49L449.5 307.49L450.0 307.49L450.5 307.49L451.0 307.49L451.5 307.49L452.0 307.49L452.5 307.49L453.0 307.50L453.5 307.50L454.0 307.50L454.5 307.50L455.0 307.50L455.5 307.50L456.0 307.50L456.5 307.50L457.0 307.50L457.5 307.50L458.0 307.50L458.5 307.50L459.0 307.51L459.5 307.51L460.0 307.51L460.5 307.51L461.0 307.51L461.5 307.51L462.0 307.51L462.5 307.51L463.0 307.51L463.5 307.51L464.0 307.51L464.5 307.52L465.0 307.52L465.5 307.52L466.0 307.52L466.5 307.52L467.0 307.52L467.5 307.52L468.0 307.52L468.5 307.52L469.0 307.52L469.5 307.52L470.0 307.52L470.5 307.53L471.0 307.53L471.5 307.53L472.0 307.53L472.5 307.53L473.0 307.53L473.5 307.53L474.0 307.53L474.5 307.53L475.0 307.53L475.5 307.53L476.0 307.54L476.5 307.54L477.0 307.54L477.5 307.54L478.0 307.54L478.5 307.54L479.0 307.54L479.5 307.54L480.0 307.54L480.5 307.54L481.0 307.54L481.5 307.54L482.0 307.55L482.5 307.55L483.0 307.55L483.5 307.55L484.0 307.55L484.5 307.55L485.0 307.55L485.5 307.55L486.0 307.55L486.5 307.55L487.0 307.55L487.5 307.56L488.0 307.56L488.5 307.56L489.0 307.56L489.5 307.56L490.0 307.56L490.5 307.56L491.0 307.56L491.5 307.56L492.0 307.56L492.5 307.56L493.0 307.56L493.5 307.57L494.0 307.57L494.5 307.57L495.0 307.57L495.5 307.57L496.0 307.57L496.5 307.57L497.0 307.57L497.5 307.57L498.0 307.57L498.5 307.57L499.0 307.58L499.5 307.58L500.0 307.58L500.5 307.58L501.0 307.58L501.5 307.58L502.0 307.58L502.5 307.58L503.0 307.58L503.5 307.58L504.0 307.58L504.5 307.58L505.0 307.59L505.5 307.59L506.0 307.59L506.5 307.59L507.0 307.59L507.5 307.59L508.0 307.59L508.5 307.59L509.0 307.59L509.5 307.59L510.0 307.59L510.5 307.59L511.0 307.60L511.5 307.60L512.0 307.60L512.5 307.60L513.0 307.60L513.5 307.60" stroke="#92BE3C"/>
<path d="M33.5 362.60L34.0 362.64L34.5 362.69L35.0 362.73L35.5 362.78L36.0 362.83L36.5 362.87L37.0 362.92L37.5 362.96L38.0 363.01L38.5 363.06L39.0 363.10L39.5 363.15L40.0 363.20L40.5 363.25L41.0 363.29L41.5 363.34L42.0 363.39L42.5 363.44L43.0 363.49L43.5 363.54L44.0 363.59L44.5 363.64L45.0 363.69L45.5 363.74L46.0 363.79L46.5 363.84L47.0 363.89L47.5 363.94L48.0 363.99L48.5 364.04L49.0 364.10L49.5 364.15L50.0 364.20L50.5 364.25L51.0 364.31L51.5 364.36L52.0 364.41L52.5 364.46L53.0 364.52L53.5 364.57L54.0 364.63L54.5 364.68L55.0 364.73L55.5 364.79L56.0 364.84L56.5 364.90L57.0 364.95L57.5 365.01L58.0 365.07L58.5 365.12L59.0 365.18L59.5 365.23L60.0 365.29L60.5 365.35L61.0 365.41L61.5 365.46L62.0 365.52L62.5 365.58L63.0 365.64L63.5 365.70L64.0 365.76L64.5 365.82L65.0 365.88L65.5 365.94L66.0 366.00L66.5 366.06L67.0 366.12L67.5 366.18L68.0 366.25L68.5 366.31L69.0 366.37L69.5 366.44L70.0 366.50L70.5 366.56L71.0 366.63L71.5 366.70L72.0 366.76L72.5 366.83L73.0 366.90L73.5 366.97L74.0 367.03L74.5 367.10L75.0 367.17L75.5 367.24L76.0 367.31L76.5 367.39L77.0 367.46L77.5 367.53L78.0 367.60L78.5 367.67L79.0 367.75L79.5 367.82L80.0 367.90L80.5 367.97L81.0 368.04L81.5 368.12L82.0 368.19L82.5 368.27L83.0 368.34L83.5 368.42L84.0 368.49L84.5 368.57L85.0 368.64L85.5 368.72L86.0 368.80L86.5 368.87L87.0 368.95L87.5 369.02L88.0 369.10L88.5 369.17L89.0 369.25L89.5 369.32L90.0 369.40L90.5 369.48L91.0 369.55L91.5 369.64L92.0 369.72L92.5 369.80L93.0 369.89L93.5 369.97L94.0 370.06L94.5 370.15L95.0 370.24L95.5 370.33L96.0 370.42L96.5 370.51L97.0 370.61L97.5 370.70L98.0 370.79L98.5 370.88L99.0 370.97L99.5 371.06L100.0 371.15L100.5 371.24L101.0 371.33L101.5 371.41L102.0 371.50L102.5 371.58L103.0 371.66L103.5 371.74L104.0 371.81L104.5 371.89L105.0 371.96L105.5 372.03L106.0 372.09L106.5 372.16L107.0 372.22L107.5 372.27L108.0 372.33L108.5 372.38L109.0 372.42L109.5 372.46L110.0 372.50L110.5 372.53L111.0 372.57L111.5 372.60L112.0 372.64L112.5 372.67L113.0 372.71L113.5 372.74L114.0 372.77L114.5 372.80L115.0 372.83L115.5 372.86L116.0 372.89L116.5 372.92L117.0 372.95L117.5 372.98L118.0 373.01L118.5 373.03L119.0 373.06L119.5 373.08L120.0 373.10L120.5 373.12L121.0 373.14L121.5 373.16L122.0 373.18L122.5 373.19L123.0 373.21L123.5 373.22L124.0 373.23L124.5 373.24L125.0 373.25L125.5 373.25L126.0 373.26L126.5 373.26L127.0 373.26L127.5 373.26L128.0 373.25L128.5 373.24L129.0 373.23L129.5 373.22L130.0 373.20L130.5 373.17L131.0 373.12L131.5 373.04L132.0 372.95L132.5 372.84L133.0 372.72L133.5 372.59L134.0 372.45L134.5 372.31L135.0 372.16L135.5 372.01L136.0 371.85L136.5 371.68L137.0 371.49L137.5 371.28L138.0 371.02L138.5 370.70L139.0 370.27L139.5 369.69L140.0 368.90L140.5 367.86L141.0 366.50L141.5 364.77L142.0 362.64L142.5 360.10L143.0 357.14L143.5 353.84L144.0 350.28L144.5 346.61L145.0 343.01L145.5 339.68L146.0 336.87L146.5 334.81L147.0 333.68L147.5 333.60L148.0 334.57L148.5 336.49L149.0 339.17L149.5 342.37L150.0 345.81L150.5 349.26L151.0 352.47L151.5 355.25L152.0 357.41L152.5 358.83L153.0 359.39L153.5 359.05L154.0 357.76L154.5 355.53L155.0 352.43L155.5 348.57L156.0 344.09L156.5 339.24L157.0 334.27L157.5 329.51L158.0 325.31L158.5 322.01L159.0 319.93L159.5 319.30L160.0 320.20L160.5 322.55L161.0 326.14L161.5 330.67L162.0 335.79L162.5 341.17L163.0 346.53L163.5 351.63L164.0 356.29L164.5 360.40L165.0 363.90L165.5 366.80L166.0 369.12L166.5 370.93L167.0 372.31L167.5 373.34L168.0 374.08L168.5 374.61L169.0 374.99L169.5 375.26L170.0 375.45L170.5 375.59L171.0 375.69L171.5 375.77L172.0 375.84L172.5 375.89L173.0 375.93L173.5 375.97L174.0 376.01L174.5 376.04L175.0 376.06L175.5 376.09L176.0 376.11L176.5 376.13L177.0 376.15L177.5 376.16L178.0 376.18L178.5 376.19L179.0 376.21L179.5 376.22L180.0 376.23L180.5 376.24L181.0 376.25L181.5 376.25L182.0 376.26L182.5 376.27L183.0 376.27L183.5 376.28L184.0 376.28L184.5 376.28L185.0 376.29L185.5 376.29L186.0 376.29L186.5 376.29L187.0 376.28L187.5 376.28L188.0 376.28L188.5 376.28L189.0 376.27L189.5 376.27L190.0 376.26L190.5 376.25L191.0 376.24L191.5 376.23L192.0 376.22L192.5 376.21L193.0 376.19L193.5 376.17L194.0 376.15L194.5 376.13L195.0 376.11L195.5 376.08L196.0 376.05L196.5 376.01L197.0 375.97L197.5 375.92L198.0 375.87L198.5 375.81L199.0 375.74L199.5 375.66L200.0 375.57L200.5 375.46L201.0 375.31L201.5 375.10L202.0 374.81L202.5 374.39L203.0 373.79L203.5 372.95L204.0 371.78L204.5 370.23L205.0 368.27L205.5 365.92L206.0 363.30L206.5 360.60L207.0 358.21L207.5 356.61L208.0 356.24L208.5 357.23L209.0 359.30L209.5 361.96L210.0 364.75L210.5 367.37L211.0 369.65L211.5 371.53L212.0 373.01L212.5 374.12L213.0 374.94L213.5 375.53L214.0 375.96L214.5 376.28L215.0 376.52L215.5 376.72L216.0 376.87L216.5 377.01L217.0 377.12L217.5 377.22L218.0 377.31L218.5 377.39L219.0 377.46L219.5 377.51L220.0 377.56L220.5 377.61L221.0 377.64L221.5 377.67L222.0 377.69L222.5 377.70L223.0 377.70L223.5 377.70L224.0 377.69L224.5 377.67L225.0 377.65L225.5 377.63L226.0 377.59L226.5 377.55L227.0 377.49L227.5 377.43L228.0 377.35L228.5 377.26L229.0 377.15L229.5 377.01L230.0 376.84L230.5 376.62L231.0 376.33L231.5 375.93L232.0 375.37L232.5 374.58L233.0 373.46L233.5 371.88L234.0 369.74L234.5 366.94L235.0 363.45L235.5 359.33L236.0 354.78L236.5 350.23L237.0 346.32L237.5 343.92L238.0 343.69L238.5 345.72L239.0 349.41L239.5 353.92L240.0 358.52L240.5 362.77L241.0 366.42L241.5 369.38L242.0 371.66L242.5 373.36L243.0 374.59L243.5 375.46L244.0 376.07L244.5 376.52L245.0 376.85L245.5 377.10L246.0 377.30L246.5 377.47L247.0 377.61L247.5 377.73L248.0 377.84L248.5 377.93L249.0 378.01L249.5 378.08L250.0 378.15L250.5 378.21L251.0 378.26L251.5 378.31L252.0 378.35L252.5 378.40L253.0 378.43L253.5 378.47L254.0 378.50L254.5 378.53L255.0 378.56L255.5 378.58L256.0 378.61L256.5 378.63L257.0 378.65L257.5 378.68L258.0 378.70L258.5 378.72L259.0 378.73L259.5 378.75L260.0 378.77L260.5 378.79L261.0 378.80L261.5 378.82L262.0 378.83L262.5 378.85L263.0 378.87L263.5 378.88L264.0 378.89L264.5 378.91L265.0 378.92L265.5 378.94L266.0 378.95L266.5 378.97L267.0 378.98L267.5 378.99L268.0 379.01L268.5 379.02L269.0 379.04L269.5 379.05L270.0 379.07L270.5 379.08L271.0 379.10L271.5 379.12L272.0 379.13L272.5 379.15L273.0 379.17L273.5 379.18L274.0 379.20L274.5 379.22L275.0 379.24L275.5 379.25L276.0 379.27L276.5 379.29L277.0 379.31L277.5 379.32L278.0 379.34L278.5 379.36L279.0 379.38L279.5 379.40L280.0 379.42L280.5 379.43L281.0 379.45L281.5 379.47L282.0 379.49L282.5 379.51L283.0 379.52L283.5 379.54L284.0 379.56L284.5 379.58L285.0 379.59L285.5 379.61L286.0 379.63L286.5 379.64L287.0 379.66L287.5 379.68L288.0 379.69L288.5 379.71L289.0 379.72L289.5 379.74L290.0 379.75L290.5 379.76L291.0 379.78L291.5 379.79L292.0 379.80L292.5 379.81L293.0 379.83L293.5 379.84L294.0 379.85L294.5 379.86L295.0 379.87L295.5 379.87L296.0 379.88L296.5 379.89L297.0 379.90L297.5 379.90L298.0 379.91L298.5 379.91L299.0 379.92L299.5 379.93L300.0 379.93L300.5 379.94L301.0 379.94L301.5 379.95L302.0 379.95L302.5 379.96L303.0 379.96L303.5 379.97L304.0 379.97L304.5 379.98L305.0 379.98L305.5 379.99L306.0 379.99L306.5 380.00L307.0 380.00L307.5 380.01L308.0 380.01L308.5 380.02L309.0 380.02L309.5 380.03L310.0 380.03L310.5 380.04L311.0 380.04L311.5 380.05L312.0 380.05L312.5 380.06L313.0 380.06L313.5 380.07L314.0 380.07L314.5 380.08L315.0 380.08L315.5 380.08L316.0 380.09L316.5 380.09L317.0 380.10L317.5 380.10L318.0 380.11L318.5 380.11L319.0 380.11L319.5 380.12L320.0 380.12L320.5 380.13L321.0 380.13L321.5 380.13L322.0 380.14L322.5 380.14L323.0 380.15L323.5 380.15L324.0 380.15L324.5 380.16L325.0 380.16L325.5 380.17L326.0 380.17L326.5 380.17L327.0 380.18L327.5 380.18L328.0 380.18L328.5 380.19L329.0 380.19L329.5 380.19L330.0 380.20L330.5 380.20L331.0 380.20L331.5 380.21L332.0 380.21L332.5 380.21L333.0 380.22L333.5 380.22L334.0 380.22L334.5 380.23L335.0 380.23L335.5 380.23L336.0 380.24L336.5 380.24L337.0 380.24L337.5 380.25L338.0 380.25L338.5 380.25L339.0 380.26L339.5 380.26L340.0 380.26L340.5 380.27L341.0 380.27L341.5 380.27L342.0 380.27L342.5 380.28L343.0 380.28L343.5 380.28L344.0 380.29L344.5 380.29L345.0 380.29L345.5 380.29L346.0 380.30L346.5 380.30L347.0 380.30L347.5 380.30L348.0 380.31L348.5 380.31L349.0 380.31L349.5 380.31L350.0 380.32L350.5 380.32L351.0 380.32L351.5 380.32L352.0 380.33L352.5 380.33L353.0 380.33L353.5 380.33L354.0 380.34L354.5 380.34L355.0 380.34L355.5 380.34L356.0 380.35L356.5 380.35L357.0 380.35L357.5 380.35L358.0 380.36L358.5 380.36L359.0 380.36L359.5 380.36L360.0 380.36L360.5 380.37L361.0 380.37L361.5 380.37L362.0 380.37L362.5 380.38L363.0 380.38L363.5 380.38L364.0 380.38L364.5 380.38L365.0 380.39L365.5 380.39L366.0 380.39L366.5 380.39L367.0 380.39L367.5 380.40L368.0 380.40L368.5 380.40L369.0 380.40L369.5 380.40L370.0 380.41L370.5 380.41L371.0 380.41L371.5 380.41L372.0 380.41L372.5 380.41L373.0 380.42L373.5 380.42L374.0 380.42L374.5 380.42L375.0 380.42L375.5 380.43L376.0 380.43L376.5 380.43L377.0 380.43L377.5 380.43L378.0 380.43L378.5 380.44L379.0 380.44L379.5 380.44L380.0 380.44L380.5 380.44L381.0 380.44L381.5 380.45L382.0 380.45L382.5 380.45L383.0 380.45L383.5 380.45L384.0 380.45L384.5 380.45L385.0 380.46L385.5 380.46L386.0 380.46L386.5 380.46L387.0 380.46L387.5 380.46L388.0 380.47L388.5 380.47L389.0 380.47L389.5 380.47L390.0 380.47L390.5 380.47L391.0 380.47L391.5 380.48L392.0 380.48L392.5 380.48L393.0 380.48L393.5 380.48L394.0 380.48L394.5 380.48L395.0 380.49L395.5 380.49L396.0 380.49L396.5 380.49L397.0 380.49L397.5 380.49L398.0 380.49L398.5 380.50L399.0 380.50L399.5 380.50L400.0 380.50L400.5 380.50L401.0 380.50L401.5 380.50L402.0 380.51L402.5 380.51L403.0 380.51L403.5 380.51L404.0 380.51L404.5 380.51L405.0 380.51L405.5 380.51L406.0 380.52L406.5 380.52L407.0 380.52L407.5 380.52L408.0 380.52L408.5 380.52L409.0 380.52L409.5 380.53L410.0 380.53L410.5 380.53L411.0 380.53L411.5 380.53L412.0 380.53L412.5 380.53L413.0 380.54L413.5 380.54L414.0 380.54L414.5 380.54L415.0 380.54L415.5 380.54L416.0 380.54L416.5 380.54L417.0 380.55L417.5 380.55L418.0 380.55L418.5 380.55L419.0 380.55L419.5 380.55L420.0 380.55L420.5 380.55L421.0 380.56L421.5 380.56L422.0 380.56L422.5 380.56L423.0 380.56L423.5 380.56L424.0 380.56L424.5 380.56L425.0 380.57L425.5 380.57L426.0 380.57L426.5 380.57L427.0 380.57L427.5 380.57L428.0 380.57L428.5 380.57L429.0 380.58L429.5 380.58L430.0 380.58L430.5 380.58L431.0 380.58L431.5 380.58L432.0 380.58L432.5 380.58L433.0 380.59L433.5 380.59L434.0 380.59L434.5 380.59L435.0 380.59L435.5 380.59L436.0 380.59L436.5 380.59L437.0 380.60L437.5 380.60L438.0 380.60L438.5 380.60L439.0 380.60L439.5 380.60L440.0 380.60L440.5 380.60L441.0 380.60L441.5 380.61L442.0 380.61L442.5 380.61L443.0 380.61L443.5 380.61L444.0 380.61L444.5 380.61L445.0 380.61L445.5 380.61L446.0 380.62L446.5 380.62L447.0 380.62L447.5 380.62L448.0 380.62L448.5 380.62L449.0 380.62L449.5 380.62L450.0 380.62L450.5 380.63L451.0 380.63L451.5 380.63L452.0 380.63L452.5 380.63L453.0 380.63L453.5 380.63L454.0 380.63L454.5 380.63L455.0 380.63L455.5 380.64L456.0 380.64L456.5 380.64L457.0 380.64L457.5 380.64L458.0 380.64L458.5 380.64L459.0 380.64L459.5 380.64L460.0 380.64L460.5 380.65L461.0 380.65L461.5 380.65L462.0 380.65L462.5 380.65L463.0 380.65L463.5 380.65L464.0 380.65L464.5 380.65L465.0 380.65L465.5 380.65L466.0 380.66L466.5 380.66L467.0 380.66L467.5 380.66L468.0 380.66L468.5 380.66L469.0 380.66L469.5 380.66L470.0 380.66L470.5 380.66L471.0 380.66L471.5 380.66L472.0 380.67L472.5 380.67L473.0 380.67L473.5 380.67L474.0 380.67L474.5 380.67L475.0 380.67L475.5 380.67L476.0 380.67L476.5 380.67L477.0 380.67L477.5 380.67L478.0 380.67L478.5 380.67L479.0 380.68L479.5 380.68L480.0 380.68L480.5 380.68L481.0 380.68L481.5 380.68L482.0 380.68L482.5 380.68L483.0 380.68L483.5 380.68L484.0 380.68L484.5 380.68L485.0 380.68L485.5 380.68L486.0 380.68L486.5 380.68L487.0 380.68L487.5 380.69L488.0 380.69L488.5 380.69L489.0 380.69L489.5 380.69L490.0 380.69L490.5 380.69L491.0 380.69L491.5 380.69L492.0 380.69L492.5 380.69L493.0 380.69L493.5 380.69L494.0 380.69L494.5 380.69L495.0 380.69L495.5 380.69L496.0 380.69L496.5 380.69L497.0 380.69L497.5 380.69L498.0 380.69L498.5 380.69L499.0 380.70L499.5 380.70L500.0 380.70L500.5 380.70L501.0 380.70L501.5 380.70L502.0 380.70L502.5 380.70L503.0 380.70L503.5 380.70L504.0 380.70L504.5 380.70L505.0 380.70L505.5 380.70L506.0 380.70L506.5 380.70L507.0 380.70L507.5 380.70L508.0 380.70L508.5 380.70L509.0 380.70L509.5 380.70L510.0 380.70L510.5 380.70L511.0 380.70L511.5 380.70L512.0 380.70L512.5 380.70L513.0 380.70L513.5 380.70" stroke="#60B07E"/>
<path d="M31.5 423.80L32.5 423.88L33.5 424.03L34.5 424.69L35.5 425.11L36.5 425.41L37.5 425.64L38.5 425.83L39.5 425.81L40.5 425.63L41.5 425.97L42.5 426.76L43.5 427.24L44.5 427.21L45.5 427.72L46.5 427.97L47.5 428.32L48.5 428.99L49.5 429.46L50.5 429.75L51.5 429.96L52.5 430.22L53.5 430.70L54.5 431.07L55.5 431.63L56.5 431.92L57.5 431.99L58.5 432.45L59.5 432.91L60.5 433.23L61.5 433.17L62.5 433.21L63.5 433.56L64.5 434.27L65.5 434.28L66.5 434.28L67.5 434.74L68.5 435.59L69.5 435.76L70.5 436.05L71.5 436.36L72.5 436.51L73.5 436.60L74.5 436.98L75.5 437.73L76.5 438.08L77.5 438.32L78.5 438.52L79.5 438.35L80.5 438.13L81.5 438.59L82.5 439.61L83.5 439.93L84.5 440.09L85.5 440.44L86.5 440.74L87.5 440.77L88.5 440.88L89.5 441.19L90.5 441.70L91.5 441.79L92.5 441.53L93.5 441.59L94.5 442.02L95.5 442.47L96.5 442.96L97.5 443.26L98.5 443.77L99.5 443.94L100.5 443.81L101.5 444.06L102.5 444.08L103.5 444.14L104.5 444.75L105.5 445.07L106.5 444.88L107.5 444.91L108.5 444.99L109.5 445.04L110.5 445.44L111.5 445.56L112.5 445.70L113.5 445.41L114.5 445.48L115.5 445.88L116.5 445.93L117.5 445.86L118.5 445.77L119.5 446.15L120.5 446.30L121.5 446.23L122.5 446.36L123.5 446.55L124.5 446.89L125.5 446.69L126.5 446.53L127.5 446.96L128.5 447.16L129.5 447.30L130.5 447.17L131.5 447.09L132.5 447.47L133.5 447.71L134.5 446.96L135.5 446.70L136.5 446.82L137.5 446.46L138.5 446.53L139.5 446.61L140.5 445.93L141.5 445.02L142.5 443.85L143.5 442.06L144.5 438.78L145.5 434.80L146.5 431.08L147.5 428.18L148.5 426.65L149.5 426.85L150.5 429.02L151.5 432.66L152.5 436.66L153.5 439.60L154.5 440.57L155.5 439.35L156.5 436.98L157.5 433.81L158.5 428.72L159.5 423.80L160.5 420.11L161.5 419.03L162.5 421.00L163.5 425.13L164.5 430.69L165.5 436.05L166.5 440.67L167.5 444.53L168.5 446.68L169.5 447.38L170.5 447.88L171.5 448.36L172.5 448.64L173.5 449.16L174.5 449.30L175.5 448.97L176.5 448.93L177.5 449.56L178.5 449.49L179.5 449.15L180.5 449.14L181.5 449.42L182.5 449.15L183.5 449.13L184.5 449.28L185.5 448.86L186.5 448.88L187.5 448.95L188.5 448.75L189.5 448.53L190.5 448.72L191.5 449.08L192.5 449.24L193.5 448.91L194.5 448.82L195.5 449.14L196.5 449.03L197.5 448.49L198.5 448.31L199.5 448.59L200.5 448.96L201.5 448.96L202.5 448.48L203.5 447.40L204.5 446.73L205.5 445.12L206.5 441.26L207.5 435.65L208.5 427.87L209.5 420.09L210.5 417.80L211.5 423.48L212.5 431.79L213.5 438.35L214.5 442.96L215.5 446.17L216.5 447.51L217.5 448.13L218.5 449.26L219.5 449.47L220.5 449.10L221.5 449.24L222.5 449.49L223.5 450.13L224.5 450.35L225.5 450.02L226.5 449.66L227.5 449.36L228.5 449.66L229.5 449.80L230.5 449.32L231.5 449.22L232.5 449.13L233.5 448.30L234.5 446.90L235.5 444.55L236.5 439.98L237.5 431.97L238.5 420.75L239.5 411.03L240.5 408.80L241.5 416.12L242.5 427.46L243.5 437.27L244.5 443.42L245.5 446.58L246.5 448.32L247.5 449.13L248.5 449.59L249.5 450.24L250.5 450.56L251.5 450.75L252.5 451.27L253.5 451.62L254.5 451.57L255.5 451.62L256.5 451.86L257.5 451.78L258.5 451.82L259.5 451.98L260.5 451.71L261.5 451.59L262.5 451.62L263.5 451.85L264.5 451.59L265.5 451.72L266.5 451.95L267.5 452.10L268.5 451.98L269.5 451.74L270.5 452.25L271.5 452.47L272.5 452.54L273.5 452.44L274.5 451.74L275.5 451.91L276.5 452.23L277.5 451.97L278.5 452.00L279.5 451.98L280.5 452.13L281.5 451.89L282.5 452.16L283.5 452.47L284.5 451.87L285.5 451.86L286.5 452.15L287.5 452.15L288.5 452.65L289.5 452.92L290.5 452.32L291.5 452.02L292.5 452.06L293.5 452.31L294.5 452.33L295.5 452.03L296.5 452.03L297.5 452.17L298.5 451.98L299.5 451.80L300.5 451.75L301.5 452.01L302.5 452.21L303.5 452.03L304.5 452.01L305.5 452.10L306.5 452.25L307.5 452.32L308.5 452.21L309.5 452.34L310.5 452.53L311.5 452.41L312.5 452.53L313.5 452.42L314.5 452.61L315.5 452.79L316.5 452.34L317.5 451.98L318.5 451.69L319.5 451.84L320.5 452.47L321.5 452.97L322.5 453.04L323.5 452.30L324.5 452.18L325.5 452.59L326.5 452.62L327.5 452.62L328.5 452.91L329.5 452.74L330.5 452.25L331.5 452.05L332.5 452.26L333.5 451.99L334.5 451.77L335.5 451.78L336.5 452.39L337.5 452.45L338.5 452.13L339.5 452.24L340.5 453.05L341.5 453.21L342.5 452.85L343.5 452.68L344.5 452.98L345.5 452.92L346.5 452.85L347.5 452.90L348.5 452.56L349.5 452.56L350.5 452.50L351.5 452.11L352.5 452.14L353.5 452.53L354.5 452.76L355.5 452.74L356.5 452.56L357.5 452.26L358.5 452.42L359.5 452.47L360.5 452.41L361.5 452.54L362.5 452.86L363.5 453.55L364.5 453.30L365.5 452.88L366.5 452.47L367.5 452.24L368.5 451.85L369.5 452.13L370.5 452.47L371.5 452.64L372.5 452.45L373.5 452.27L374.5 452.48L375.5 452.38L376.5 452.33L377.5 452.16L378.5 452.70L379.5 453.24L380.5 453.19L381.5 453.01L382.5 452.96L383.5 453.04L384.5 453.34L385.5 453.11L386.5 452.48L387.5 452.60L388.5 452.59L389.5 452.21L390.5 452.19L391.5 452.10L392.5 452.23L393.5 453.00L394.5 453.07L395.5 452.13L396.5 451.89L397.5 452.02L398.5 452.06L399.5 452.32L400.5 452.41L401.5 452.19L402.5 452.30L403.5 453.31L404.5 453.50L405.5 453.02L406.5 452.78L407.5 452.54L408.5 452.40L409.5 452.46L410.5 452.94L411.5 452.87L412.5 452.68L413.5 452.66L414.5 452.94L415.5 452.92L416.5 452.65L417.5 452.45L418.5 452.26L419.5 452.77L420.5 452.87L421.5 452.57L422.5 452.42L423.5 452.02L424.5 451.82L425.5 452.28L426.5 452.88L427.5 452.54L428.5 451.98L429.5 452.07L430.5 452.16L431.5 452.43L432.5 452.80L433.5 452.98L434.5 453.11L435.5 452.87L436.5 452.42L437.5 452.42L438.5 452.62L439.5 452.48L440.5 452.05L441.5 452.28L442.5 452.46L443.5 452.58L444.5 452.94L445.5 453.15L446.5 452.55L447.5 452.40L448.5 452.29L449.5 452.11L450.5 451.81L451.5 451.85L452.5 452.25L453.5 452.27L454.5 452.69L455.5 452.70L456.5 452.47L457.5 452.37L458.5 452.89L459.5 453.08L460.5 452.90L461.5 453.13L462.5 453.21L463.5 452.89L464.5 452.76L465.5 452.33L466.5 452.66L467.5 453.11L468.5 453.03L469.5 453.25L470.5 453.41L471.5 453.17L472.5 452.90L473.5 452.88L474.5 452.83L475.5 452.68L476.5 452.52L477.5 452.58L478.5 452.63L479.5 452.58L480.5 452.64L481.5 453.38L482.5 453.70L483.5 453.19L484.5 453.05L485.5 452.97L486.5 453.10L487.5 452.99L488.5 452.90L489.5 452.88L490.5 452.48L491.5 452.69L492.5 453.02L493.5 452.90L494.5 452.67L495.5 452.76L496.5 452.71L497.5 452.66L498.5 452.64L499.5 452.75L500.5 453.11L501.5 453.00L502.5 452.84L503.5 452.67L504.5 452.58L505.5 452.64L506.5 452.84L507.5 453.27L508.5 453.55L509.5 453.46L510.5 453.21L511.5 453.31L512.5 452.72L513.5 452.66" stroke="#457EB8"/>
<path d="M33.5 503.20L34.0 503.37L34.5 503.54L35.0 503.71L35.5 503.87L36.0 504.04L36.5 504.21L37.0 504.37L37.5 504.53L38.0 504.69L38.5 504.86L39.0 505.02L39.5 505.17L40.0 505.33L40.5 505.49L41.0 505.64L41.5 505.80L42.0 505.95L42.5 506.10L43.0 506.25L43.5 506.40L44.0 506.55L44.5 506.69L45.0 506.84L45.5 506.98L46.0 507.12L46.5 507.26L47.0 507.40L47.5 507.54L48.0 507.67L48.5 507.81L49.0 507.94L49.5 508.07L50.0 508.20L50.5 508.33L51.0 508.46L51.5 508.59L52.0 508.72L52.5 508.86L53.0 508.99L53.5 509.13L54.0 509.26L54.5 509.40L55.0 509.54L55.5 509.67L56.0 509.81L56.5 509.94L57.0 510.07L57.5 510.21L58.0 510.34L58.5 510.47L59.0 510.60L59.5 510.72L60.0 510.85L60.5 510.97L61.0 511.09L61.5 511.21L62.0 511.32L62.5 511.43L63.0 511.54L63.5 511.64L64.0 511.74L64.5 511.84L65.0 511.93L65.5 512.02L66.0 512.11L66.5 512.19L67.0 512.26L67.5 512.33L68.0 512.40L68.5 512.46L69.0 512.51L69.5 512.56L70.0 512.60L70.5 512.64L71.0 512.67L71.5 512.70L72.0 512.73L72.5 512.76L73.0 512.79L73.5 512.81L74.0 512.83L74.5 512.85L75.0 512.87L75.5 512.89L76.0 512.91L76.5 512.93L77.0 512.95L77.5 512.97L78.0 512.99L78.5 513.01L79.0 513.04L79.5 513.06L80.0 513.08L80.5 513.11L81.0 513.14L81.5 513.17L82.0 513.20L82.5 513.24L83.0 513.27L83.5 513.32L84.0 513.36L84.5 513.41L85.0 513.45L85.5 513.51L86.0 513.56L86.5 513.62L87.0 513.67L87.5 513.73L88.0 513.80L88.5 513.86L89.0 513.93L89.5 513.99L90.0 514.06L90.5 514.13L91.0 514.20L91.5 514.27L92.0 514.35L92.5 514.42L93.0 514.50L93.5 514.57L94.0 514.65L94.5 514.73L95.0 514.80L95.5 514.88L96.0 514.96L96.5 515.04L97.0 515.11L97.5 515.19L98.0 515.27L98.5 515.35L99.0 515.42L99.5 515.50L100.0 515.58L100.5 515.65L101.0 515.73L101.5 515.80L102.0 515.87L102.5 515.94L103.0 516.01L103.5 516.08L104.0 516.15L104.5 516.21L105.0 516.28L105.5 516.34L106.0 516.40L106.5 516.46L107.0 516.51L107.5 516.57L108.0 516.62L108.5 516.67L109.0 516.71L109.5 516.76L110.0 516.80L110.5 516.84L111.0 516.88L111.5 516.92L112.0 516.96L112.5 517.00L113.0 517.04L113.5 517.07L114.0 517.11L114.5 517.15L115.0 517.19L115.5 517.23L116.0 517.26L116.5 517.30L117.0 517.33L117.5 517.37L118.0 517.41L118.5 517.44L119.0 517.47L119.5 517.51L120.0 517.54L120.5 517.57L121.0 517.61L121.5 517.64L122.0 517.67L122.5 517.70L123.0 517.73L123.5 517.76L124.0 517.79L124.5 517.82L125.0 517.84L125.5 517.87L126.0 517.90L126.5 517.92L127.0 517.95L127.5 517.97L128.0 517.99L128.5 518.01L129.0 518.04L129.5 518.06L130.0 518.08L130.5 518.09L131.0 518.11L131.5 518.13L132.0 518.15L132.5 518.16L133.0 518.17L133.5 518.19L134.0 518.20L134.5 518.21L135.0 518.22L135.5 518.23L136.0 518.24L136.5 518.25L137.0 518.26L137.5 518.27L138.0 518.28L138.5 518.29L139.0 518.30L139.5 518.31L140.0 518.32L140.5 518.32L141.0 518.33L141.5 518.34L142.0 518.34L142.5 518.35L143.0 518.36L143.5 518.36L144.0 518.37L144.5 518.38L145.0 518.38L145.5 518.39L146.0 518.39L146.5 518.40L147.0 518.40L147.5 518.41L148.0 518.41L148.5 518.42L149.0 518.42L149.5 518.43L150.0 518.43L150.5 518.44L151.0 518.44L151.5 518.44L152.0 518.45L152.5 518.45L153.0 518.46L153.5 518.46L154.0 518.47L154.5 518.47L155.0 518.47L155.5 518.48L156.0 518.48L156.5 518.48L157.0 518.49L157.5 518.49L158.0 518.50L158.5 518.50L159.0 518.50L159.5 518.51L160.0 518.51L160.5 518.52L161.0 518.52L161.5 518.53L162.0 518.53L162.5 518.54L163.0 518.54L163.5 518.54L164.0 518.55L164.5 518.55L165.0 518.56L165.5 518.57L166.0 518.57L166.5 518.58L167.0 518.58L167.5 518.59L168.0 518.59L168.5 518.60L169.0 518.61L169.5 518.61L170.0 518.62L170.5 518.62L171.0 518.63L171.5 518.64L172.0 518.64L172.5 518.65L173.0 518.66L173.5 518.66L174.0 518.67L174.5 518.67L175.0 518.68L175.5 518.69L176.0 518.69L176.5 518.70L177.0 518.70L177.5 518.71L178.0 518.71L178.5 518.72L179.0 518.72L179.5 518.73L180.0 518.73L180.5 518.74L181.0 518.74L181.5 518.74L182.0 518.75L182.5 518.75L183.0 518.75L183.5 518.75L184.0 518.75L184.5 518.76L185.0 518.76L185.5 518.76L186.0 518.75L186.5 518.75L187.0 518.75L187.5 518.75L188.0 518.74L188.5 518.73L189.0 518.73L189.5 518.72L190.0 518.70L190.5 518.69L191.0 518.67L191.5 518.66L192.0 518.64L192.5 518.61L193.0 518.58L193.5 518.55L194.0 518.51L194.5 518.47L195.0 518.43L195.5 518.37L196.0 518.31L196.5 518.24L197.0 518.16L197.5 518.06L198.0 517.95L198.5 517.82L199.0 517.67L199.5 517.49L200.0 517.27L200.5 517.01L201.0 516.68L201.5 516.26L202.0 515.69L202.5 514.91L203.0 513.81L203.5 512.24L204.0 510.02L204.5 506.93L205.0 502.80L205.5 497.49L206.0 490.99L206.5 483.52L207.0 475.56L207.5 467.99L208.0 462.11L208.5 459.38L209.0 460.62L209.5 465.45L210.0 472.58L210.5 480.57L211.0 488.38L211.5 495.35L212.0 501.20L212.5 505.85L213.0 509.39L213.5 511.99L214.0 513.85L214.5 515.17L215.0 516.11L215.5 516.80L216.0 517.32L216.5 517.73L217.0 518.06L217.5 518.34L218.0 518.57L218.5 518.78L219.0 518.95L219.5 519.11L220.0 519.24L220.5 519.36L221.0 519.46L221.5 519.55L222.0 519.62L222.5 519.69L223.0 519.74L223.5 519.79L224.0 519.82L224.5 519.84L225.0 519.86L225.5 519.86L226.0 519.86L226.5 519.84L227.0 519.81L227.5 519.77L228.0 519.71L228.5 519.63L229.0 519.53L229.5 519.41L230.0 519.25L230.5 519.05L231.0 518.81L231.5 518.50L232.0 518.10L232.5 517.56L233.0 516.83L233.5 515.80L234.0 514.31L234.5 512.17L235.0 509.14L235.5 504.94L236.0 499.35L236.5 492.22L237.0 483.59L237.5 473.80L238.0 463.54L238.5 454.09L239.0 447.21L239.5 444.70L240.0 447.36L240.5 454.38L241.0 463.98L241.5 474.37L242.0 484.31L242.5 493.08L243.0 500.35L243.5 506.09L244.0 510.43L244.5 513.60L245.0 515.88L245.5 517.50L246.0 518.67L246.5 519.54L247.0 520.21L247.5 520.74L248.0 521.19L248.5 521.56L249.0 521.89L249.5 522.17L250.0 522.43L250.5 522.65L251.0 522.85L251.5 523.04L252.0 523.20L252.5 523.35L253.0 523.49L253.5 523.61L254.0 523.73L254.5 523.83L255.0 523.93L255.5 524.01L256.0 524.09L256.5 524.16L257.0 524.23L257.5 524.29L258.0 524.34L258.5 524.39L259.0 524.43L259.5 524.47L260.0 524.50L260.5 524.53L261.0 524.55L261.5 524.58L262.0 524.60L262.5 524.62L263.0 524.64L263.5 524.66L264.0 524.68L264.5 524.70L265.0 524.71L265.5 524.73L266.0 524.74L266.5 524.75L267.0 524.77L267.5 524.78L268.0 524.79L268.5 524.80L269.0 524.81L269.5 524.82L270.0 524.83L270.5 524.84L271.0 524.84L271.5 524.85L272.0 524.86L272.5 524.87L273.0 524.87L273.5 524.88L274.0 524.88L274.5 524.89L275.0 524.90L275.5 524.90L276.0 524.91L276.5 524.91L277.0 524.91L277.5 524.92L278.0 524.92L278.5 524.93L279.0 524.93L279.5 524.93L280.0 524.94L280.5 524.94L281.0 524.94L281.5 524.95L282.0 524.95L282.5 524.95L283.0 524.95L283.5 524.96L284.0 524.96L284.5 524.96L285.0 524.96L285.5 524.97L286.0 524.97L286.5 524.97L287.0 524.97L287.5 524.97L288.0 524.97L288.5 524.98L289.0 524.98L289.5 524.98L290.0 524.98L290.5 524.98L291.0 524.98L291.5 524.98L292.0 524.98L292.5 524.99L293.0 524.99L293.5 524.99L294.0 524.99L294.5 524.99L295.0 524.99L295.5 524.99L296.0 524.99L296.5 524.99L297.0 524.99L297.5 525.00L298.0 525.00L298.5 525.00L299.0 525.00L299.5 525.00L300.0 525.00L300.5 525.00L301.0 525.00L301.5 525.00L302.0 525.00L302.5 525.00L303.0 525.00L303.5 525.01L304.0 525.01L304.5 525.01L305.0 525.01L305.5 525.01L306.0 525.01L306.5 525.01L307.0 525.01L307.5 525.01L308.0 525.01L308.5 525.01L309.0 525.01L309.5 525.01L310.0 525.01L310.5 525.01L311.0 525.01L311.5 525.01L312.0 525.01L312.5 525.01L313.0 525.01L313.5 525.01L314.0 525.01L314.5 525.01L315.0 525.01L315.5 525.01L316.0 525.01L316.5 525.02L317.0 525.02L317.5 525.02L318.0 525.02L318.5 525.02L319.0 525.02L319.5 525.02L320.0 525.02L320.5 525.02L321.0 525.02L321.5 525.02L322.0 525.02L322.5 525.02L323.0 525.02L323.5 525.02L324.0 525.02L324.5 525.02L325.0 525.02L325.5 525.02L326.0 525.02L326.5 525.02L327.0 525.02L327.5 525.02L328.0 525.02L328.5 525.02L329.0 525.02L329.5 525.02L330.0 525.02L330.5 525.02L331.0 525.02L331.5 525.02L332.0 525.02L332.5 525.02L333.0 525.02L333.5 525.02L334.0 525.02L334.5 525.02L335.0 525.02L335.5 525.02L336.0 525.02L336.5 525.02L337.0 525.02L337.5 525.02L338.0 525.02L338.5 525.01L339.0 525.01L339.5 525.01L340.0 525.01L340.5 525.01L341.0 525.01L341.5 525.01L342.0 525.01L342.5 525.01L343.0 525.01L343.5 525.01L344.0 525.01L344.5 525.01L345.0 525.01L345.5 525.01L346.0 525.01L346.5 525.01L347.0 525.01L347.5 525.01L348.0 525.01L348.5 525.01L349.0 525.01L349.5 525.01L350.0 525.01L350.5 525.01L351.0 525.01L351.5 525.01L352.0 525.01L352.5 525.01L353.0 525.01L353.5 525.01L354.0 525.01L354.5 525.01L355.0 525.01L355.5 525.01L356.0 525.01L356.5 525.01L357.0 525.01L357.5 525.01L358.0 525.01L358.5 525.01L359.0 525.01L359.5 525.01L360.0 525.01L360.5 525.01L361.0 525.01L361.5 525.01L362.0 525.01L362.5 525.01L363.0 525.01L363.5 525.01L364.0 525.01L364.5 525.01L365.0 525.01L365.5 525.01L366.0 525.01L366.5 525.01L367.0 525.01L367.5 525.01L368.0 525.01L368.5 525.01L369.0 525.01L369.5 525.01L370.0 525.00L370.5 525.00L371.0 525.00L371.5 525.00L372.0 525.00L372.5 525.00L373.0 525.00L373.5 525.00L374.0 525.00L374.5 525.00L375.0 525.00L375.5 525.00L376.0 525.00L376.5 525.00L377.0 525.00L377.5 525.00L378.0 525.00L378.5 525.00L379.0 525.00L379.5 525.00L380.0 525.00L380.5 525.00L381.0 525.00L381.5 525.00L382.0 525.00L382.5 525.00L383.0 525.00L383.5 525.00L384.0 525.00L384.5 525.00L385.0 525.00L385.5 525.00L386.0 525.00L386.5 525.00L387.0 525.00L387.5 525.00L388.0 525.00L388.5 525.00L389.0 525.00L389.5 525.00L390.0 525.00L390.5 525.00L391.0 525.00L391.5 525.00L392.0 525.00L392.5 525.00L393.0 525.00L393.5 525.00L394.0 525.00L394.5 525.00L395.0 525.00L395.5 525.00L396.0 525.00L396.5 525.00L397.0 525.00L397.5 525.00L398.0 525.00L398.5 525.00L399.0 525.00L399.5 525.00L400.0 525.00L400.5 525.00L401.0 525.00L401.5 525.00L402.0 525.00L402.5 525.00L403.0 525.00L403.5 525.00L404.0 525.00L404.5 525.00L405.0 525.00L405.5 525.00L406.0 525.00L406.5 525.00L407.0 525.00L407.5 525.00L408.0 525.00L408.5 525.00L409.0 525.00L409.5 525.00L410.0 525.00L410.5 525.00L411.0 525.00L411.5 525.00L412.0 525.00L412.5 525.00L413.0 525.00L413.5 525.00L414.0 525.00L414.5 525.00L415.0 525.00L415.5 525.00L416.0 525.00L416.5 525.00L417.0 525.00L417.5 525.00L418.0 525.00L418.5 525.00L419.0 525.00L419.5 525.00L420.0 525.00L420.5 525.00L421.0 525.00L421.5 525.00L422.0 525.00L422.5 525.00L423.0 525.00L423.5 525.00L424.0 525.00L424.5 525.00L425.0 525.00L425.5 525.00L426.0 525.00L426.5 525.00L427.0 525.00L427.5 525.00L428.0 525.00L428.5 525.00L429.0 525.00L429.5 525.00L430.0 525.00L430.5 525.00L431.0 525.00L431.5 525.00L432.0 525.00L432.5 525.00L433.0 525.00L433.5 525.00L434.0 525.00L434.5 525.00L435.0 525.00L435.5 525.00L436.0 525.00L436.5 525.00L437.0 525.00L437.5 525.00L438.0 525.00L438.5 525.00L439.0 525.00L439.5 525.00L440.0 525.00L440.5 525.00L441.0 525.00L441.5 525.00L442.0 525.00L442.5 525.00L443.0 525.00L443.5 525.00L444.0 525.00L444.5 525.00L445.0 525.00L445.5 525.00L446.0 525.00L446.5 525.00L447.0 525.00L447.5 525.00L448.0 525.00L448.5 525.00L449.0 525.00L449.5 525.00L450.0 525.00L450.5 525.00L451.0 525.00L451.5 525.00L452.0 525.00L452.5 525.00L453.0 525.00L453.5 525.00L454.0 525.00L454.5 525.00L455.0 525.00L455.5 525.00L456.0 525.00L456.5 525.00L457.0 525.00L457.5 525.00L458.0 525.00L458.5 525.00L459.0 525.00L459.5 525.00L460.0 525.00L460.5 525.00L461.0 525.00L461.5 525.00L462.0 525.00L462.5 525.00L463.0 525.00L463.5 525.00L464.0 525.00L464.5 525.00L465.0 525.00L465.5 525.00L466.0 525.00L466.5 525.00L467.0 525.00L467.5 525.00L468.0 525.00L468.5 525.00L469.0 525.00L469.5 525.00L470.0 525.00L470.5 525.00L471.0 525.00L471.5 525.00L472.0 525.00L472.5 525.00L473.0 525.00L473.5 525.00L474.0 525.00L474.5 525.00L475.0 525.00L475.5 525.00L476.0 525.00L476.5 525.00L477.0 525.00L477.5 525.00L478.0 525.00L478.5 525.00L479.0 525.00L479.5 525.00L480.0 525.00L480.5 525.00L481.0 525.00L481.5 525.00L482.0 525.00L482.5 525.00L483.0 525.00L483.5 525.00L484.0 525.00L484.5 525.00L485.0 525.00L485.5 525.00L486.0 525.00L486.5 525.00L487.0 525.00L487.5 525.00L488.0 525.00L488.5 525.00L489.0 525.00L489.5 525.00L490.0 525.00L490.5 525.00L491.0 525.00L491.5 525.00L492.0 525.00L492.5 525.00L493.0 525.00L493.5 525.00L494.0 525.00L494.5 525.00L495.0 525.00L495.5 525.00L496.0 525.00L496.5 525.00L497.0 525.00L497.5 525.00L498.0 525.00L498.5 525.00L499.0 525.00L499.5 525.00L500.0 525.00L500.5 525.00L501.0 525.00L501.5 525.00L502.0 525.00L502.5 525.00L503.0 525.00L503.5 525.00L504.0 525.00L504.5 525.00L505.0 525.00L505.5 525.00L506.0 525.00L506.5 525.00L507.0 525.00L507.5 525.00L508.0 525.00L508.5 525.00L509.0 525.00L509.5 525.00L510.0 525.00L510.5 525.00L511.0 525.00L511.5 525.00L512.0 525.00L512.5 525.00L513.0 525.00L513.5 525.00" stroke="#3A12A6"/>
  </g>
  <line x1="469.3" y1="4.2" x2="469.3" y2="517" stroke="#111" stroke-width="1.8" stroke-dasharray="4.7 5.71" stroke-dashoffset="2.4"/>
  <g stroke="#1a1a1a" stroke-width="1.6">
  <line x1="82.8" y1="517" x2="82.8" y2="527.8"/>
<line x1="179.4" y1="517" x2="179.4" y2="527.8"/>
<line x1="276.0" y1="517" x2="276.0" y2="527.8"/>
<line x1="372.5" y1="517" x2="372.5" y2="527.8"/>
<line x1="469.3" y1="517" x2="469.3" y2="527.8"/>
  </g>
  <rect x="27.5" y="4.2" width="489.4" height="523.7" fill="none" stroke="#1a1a1a" stroke-width="1.6"/>
  <text class="ser" x="121.3" y="54.3" font-size="25.2">Sb <tspan font-style="italic">4d</tspan></text>
  <text class="ser" x="156.3" y="74.8" font-size="20">5/2</text>
  <text class="ser" x="122.2" y="92.8" font-size="20">3/2</text>
  <text class="ser" x="197.6" y="193.6" font-size="25.2">Bi <tspan font-style="italic">5d</tspan></text>
  <text class="ser" x="196.5" y="221.8" font-size="20">3/2</text>
  <text class="ser" x="228.8" y="215.8" font-size="20">5/2</text>
  <g class="san" font-size="20.4" text-anchor="end">
  <text x="456" y="151.5">8BL-Sb</text>
  <text x="456" y="225.8">4BL-Sb</text>
  <text x="456" y="299.8">3BL-Sb</text>
  <text x="456" y="372.9">2BL-Sb</text>
  <text x="456" y="446.5">1BL-Sb</text>
  <text x="456" y="516.2">0BL-Sb (Bi/Si)</text>
  </g>
  <g class="ser" font-size="20" text-anchor="middle">
  <text x="81.4" y="548.7">40</text>
  <text x="178" y="548.7">30</text>
  <text x="274.6" y="548.7">20</text>
  <text x="371.4" y="548.7">10</text>
  </g>
  <text class="ser" x="454.6" y="548.2" font-size="19.5"><tspan font-style="italic">E</tspan><tspan font-size="18" dx="0.6" dy="5.2">F</tspan></text>
  <text class="ser" x="184" y="579.4" font-size="24" textLength="219.8" lengthAdjust="spacing">Binding Energy (eV)</text>
  <text class="ser" transform="translate(19.6,390) rotate(-90)" x="0" y="0" font-size="25.2">Intensity (arb.units)</text>
  </svg>
  </body></html>
